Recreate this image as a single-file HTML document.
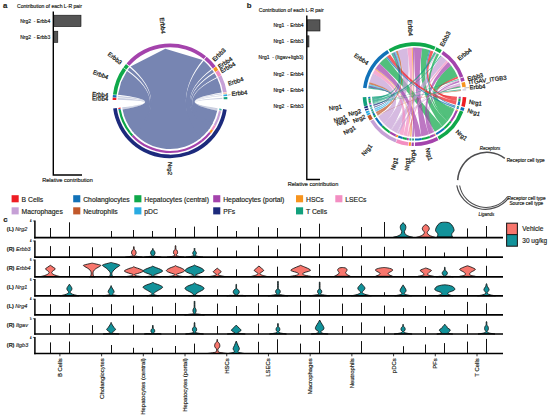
<!DOCTYPE html>
<html><head><meta charset="utf-8"><style>
html,body{margin:0;padding:0;background:#fff;width:550px;height:419px;overflow:hidden}
svg{display:block}
text{font-family:"Liberation Sans",sans-serif;stroke:#231F20;stroke-width:0.17px}
</style></head><body>
<svg width="550" height="419" viewBox="0 0 550 419">
<text x="3.00" y="8.40" font-size="7.8" text-anchor="start" font-weight="bold" fill="#231F20">a</text>
<text x="17.00" y="7.90" font-size="5.08" text-anchor="start" fill="#231F20">Contribution of each L-R pair</text>
<rect x="53.8" y="15.2" width="27.2" height="11.4" fill="#555" stroke="#111" stroke-width="0.6"/>
<rect x="53.8" y="31.2" width="4" height="11.2" fill="#555" stroke="#111" stroke-width="0.6"/>
<path d="M53.3,11.5 V175 H82" fill="none" stroke="#000" stroke-width="1.4"/>
<text x="50.20" y="22.90" font-size="5.0" text-anchor="end" fill="#231F20">Nrg2 &#160;- Erbb4</text>
<text x="50.20" y="38.90" font-size="5.0" text-anchor="end" fill="#231F20">Nrg2 &#160;- Erbb3</text>
<text x="67.50" y="182.00" font-size="5.6" text-anchor="middle" fill="#231F20">Relative contribution</text>
<path d="M226.72,109.68 A57.4,57.4 0 0 1 113.12,108.59 L116.78,108.10 A53.7,53.7 0 0 0 223.07,109.12Z" fill="#1C2A7C"/>
<path d="M221.59,108.89 A52.2,52.2 0 0 1 221.41,109.95 L219.24,109.57 A50.0,50.0 0 0 0 219.41,108.55Z" fill="#12A07C"/>
<path d="M221.41,109.95 A52.2,52.2 0 0 1 221.27,110.72 L219.11,110.31 A50.0,50.0 0 0 0 219.24,109.57Z" fill="#29ABE2"/>
<path d="M221.27,110.72 A52.2,52.2 0 0 1 221.10,111.54 L218.95,111.09 A50.0,50.0 0 0 0 219.11,110.31Z" fill="#F9C9B0"/>
<path d="M221.10,111.54 A52.2,52.2 0 0 1 215.75,126.04 L213.82,124.98 A50.0,50.0 0 0 0 218.95,111.09Z" fill="#C6A0D6"/>
<path d="M215.75,126.04 A52.2,52.2 0 0 1 213.03,130.45 L211.22,129.20 A50.0,50.0 0 0 0 213.82,124.98Z" fill="#F38EC2"/>
<path d="M213.03,130.45 A52.2,52.2 0 0 1 210.91,133.32 L209.19,131.95 A50.0,50.0 0 0 0 211.22,129.20Z" fill="#F7941E"/>
<path d="M210.91,133.32 A52.2,52.2 0 0 1 202.70,141.59 L201.32,139.87 A50.0,50.0 0 0 0 209.19,131.95Z" fill="#A443AC"/>
<path d="M202.70,141.59 A52.2,52.2 0 0 1 131.54,136.19 L133.16,134.70 A50.0,50.0 0 0 0 201.32,139.87Z" fill="#A443AC"/>
<path d="M131.54,136.19 A52.2,52.2 0 0 1 129.05,133.27 L130.78,131.91 A50.0,50.0 0 0 0 133.16,134.70Z" fill="#0FA84A"/>
<path d="M129.05,133.27 A52.2,52.2 0 0 1 118.63,110.17 L120.79,109.78 A50.0,50.0 0 0 0 130.78,131.91Z" fill="#0FA84A"/>
<path d="M118.63,110.17 A52.2,52.2 0 0 1 118.44,109.06 L120.61,108.72 A50.0,50.0 0 0 0 120.79,109.78Z" fill="#1272B8"/>
<path d="M118.44,109.06 A52.2,52.2 0 0 1 118.27,107.89 L120.45,107.60 A50.0,50.0 0 0 0 120.61,108.72Z" fill="#EE1D24"/>
<path d="M217.63,108.27 A48.2,48.2 0 0 1 217.47,109.26 Q170.00,100.90 222.30,97.66 L222.34,98.34 L222.37,99.03 Q170.00,100.90 217.63,108.27Z" fill="#7785B2" fill-opacity="0.4"/>
<path d="M217.47,109.26 A48.2,48.2 0 0 1 217.34,109.97 Q170.00,100.90 222.09,95.17 L222.13,95.60 L222.17,96.04 Q170.00,100.90 217.47,109.26Z" fill="#7785B2" fill-opacity="0.4"/>
<path d="M217.34,109.97 A48.2,48.2 0 0 1 217.19,110.72 Q170.00,100.90 221.84,93.28 L221.91,93.74 L221.97,94.21 Q170.00,100.90 217.34,109.97Z" fill="#7785B2" fill-opacity="0.4"/>
<path d="M217.19,110.72 A48.2,48.2 0 0 1 211.74,125.00 Q170.00,100.90 217.12,77.97 L219.95,85.06 L221.72,92.48 Q170.00,100.90 217.19,110.72Z" fill="#7785B2" fill-opacity="1.0"/>
<path d="M212.72,123.23 A48.2,48.2 0 0 1 209.16,129.01 Q170.00,100.90 214.46,73.17 L215.65,75.18 L216.75,77.23 Q170.00,100.90 212.72,123.23Z" fill="#7785B2" fill-opacity="1.0"/>
<path d="M210.30,127.34 A48.2,48.2 0 0 1 207.14,131.62 Q170.00,100.90 212.20,69.84 L213.08,71.07 L213.92,72.32 Q170.00,100.90 210.30,127.34Z" fill="#7785B2" fill-opacity="1.0"/>
<path d="M208.40,130.03 A48.2,48.2 0 0 1 199.40,139.10 Q170.00,100.90 203.72,60.79 L207.85,64.66 L211.54,68.96 Q170.00,100.90 208.40,130.03Z" fill="#7785B2" fill-opacity="1.0"/>
<path d="M200.97,137.83 A48.2,48.2 0 0 1 133.81,132.74 Q170.00,100.90 130.54,66.42 L165.30,48.71 L202.66,59.92 Q170.00,100.90 200.97,137.83Z" fill="#7785B2" fill-opacity="1.0"/>
<path d="M135.17,134.22 A48.2,48.2 0 0 1 131.57,129.99 Q170.00,100.90 127.63,70.06 L128.62,68.75 L129.65,67.46 Q170.00,100.90 135.17,134.22Z" fill="#7785B2" fill-opacity="1.0"/>
<path d="M132.82,131.58 A48.2,48.2 0 0 1 122.57,109.46 Q170.00,100.90 117.97,94.65 L121.03,82.25 L127.00,70.96 Q170.00,100.90 132.82,131.58Z" fill="#7785B2" fill-opacity="1.0"/>
<path d="M122.57,109.46 A48.2,48.2 0 0 1 122.39,108.43 Q170.00,100.90 117.73,97.20 L117.79,96.47 L117.85,95.74 Q170.00,100.90 122.57,109.46Z" fill="#7785B2" fill-opacity="0.4"/>
<path d="M122.39,108.43 A48.2,48.2 0 0 1 122.23,107.36 Q170.00,100.90 117.61,99.67 L117.64,98.89 L117.67,98.11 Q170.00,100.90 122.39,108.43Z" fill="#7785B2" fill-opacity="0.4"/>
<path d="M112.61,99.90 A57.4,57.4 0 0 1 112.70,97.50 L116.39,97.72 A53.7,53.7 0 0 0 116.31,99.96Z" fill="#EE1D24"/>
<path d="M112.72,97.20 A57.4,57.4 0 0 1 112.91,94.90 L116.59,95.29 A53.7,53.7 0 0 0 116.41,97.43Z" fill="#1272B8"/>
<path d="M112.97,94.40 A57.4,57.4 0 0 1 123.10,67.81 L126.12,69.95 A53.7,53.7 0 0 0 116.65,94.82Z" fill="#0FA84A"/>
<path d="M123.39,67.40 A57.4,57.4 0 0 1 126.03,64.00 L128.86,66.38 A53.7,53.7 0 0 0 126.39,69.56Z" fill="#0FA84A"/>
<path d="M126.55,63.39 A57.4,57.4 0 0 1 206.05,56.23 L203.72,59.11 A53.7,53.7 0 0 0 129.35,65.81Z" fill="#A443AC"/>
<path d="M206.67,56.74 A57.4,57.4 0 0 1 215.72,66.20 L212.77,68.43 A53.7,53.7 0 0 0 204.30,59.58Z" fill="#A443AC"/>
<path d="M216.02,66.60 A57.4,57.4 0 0 1 218.30,69.89 L215.19,71.89 A53.7,53.7 0 0 0 213.06,68.81Z" fill="#F7941E"/>
<path d="M218.52,70.23 A57.4,57.4 0 0 1 221.37,75.29 L218.06,76.94 A53.7,53.7 0 0 0 215.39,72.21Z" fill="#F38EC2"/>
<path d="M221.46,75.47 A57.4,57.4 0 0 1 226.71,92.02 L223.05,92.59 A53.7,53.7 0 0 0 218.14,77.11Z" fill="#C6A0D6"/>
<path d="M226.74,92.22 A57.4,57.4 0 0 1 226.97,93.90 L223.30,94.36 A53.7,53.7 0 0 0 223.08,92.78Z" fill="#F9C9B0"/>
<path d="M227.02,94.30 A57.4,57.4 0 0 1 227.18,95.90 L223.50,96.22 A53.7,53.7 0 0 0 223.34,94.73Z" fill="#29ABE2"/>
<path d="M227.27,97.00 A57.4,57.4 0 0 1 227.37,99.20 L223.68,99.31 A53.7,53.7 0 0 0 223.58,97.25Z" fill="#12A07C"/>
<text x="246.80" y="8.30" font-size="7.8" text-anchor="start" font-weight="bold" fill="#231F20">b</text>
<text x="258.80" y="11.90" font-size="5.08" text-anchor="start" fill="#231F20">Contribution of each L-R pair</text>
<rect x="307.4" y="19.8" width="12.6" height="11.2" fill="#555" stroke="#111" stroke-width="0.6"/>
<rect x="307.4" y="35.8" width="1.6" height="11.2" fill="#555" stroke="#111" stroke-width="0.5"/>
<path d="M306.8,15.5 V179.5 H320" fill="none" stroke="#000" stroke-width="1.4"/>
<text x="303.50" y="26.80" font-size="5.0" text-anchor="end" fill="#231F20">Nrg1 &#160;- Erbb4</text>
<text x="303.50" y="43.10" font-size="5.0" text-anchor="end" fill="#231F20">Nrg1 &#160;- Erbb3</text>
<text x="303.50" y="59.40" font-size="5.0" text-anchor="end" fill="#231F20">Nrg1 &#160;- (Itgav+Itgb3)</text>
<text x="303.50" y="75.70" font-size="5.0" text-anchor="end" fill="#231F20">Nrg2 &#160;- Erbb4</text>
<text x="303.50" y="92.00" font-size="5.0" text-anchor="end" fill="#231F20">Nrg4 &#160;- Erbb4</text>
<text x="303.50" y="108.30" font-size="5.0" text-anchor="end" fill="#231F20">Nrg2 &#160;- Erbb3</text>
<text x="313.00" y="186.00" font-size="5.6" text-anchor="middle" fill="#231F20">Relative contribution</text>
<rect x="11.6" y="195.2" width="7.1" height="7.1" fill="#EE1D24"/>
<text x="21.60" y="201.70" font-size="6.8" text-anchor="start" fill="#231F20">B Cells</text>
<rect x="73.2" y="195.2" width="7.1" height="7.1" fill="#1272B8"/>
<text x="83.20" y="201.70" font-size="6.8" text-anchor="start" fill="#231F20">Cholangiocytes</text>
<rect x="134.3" y="195.2" width="7.1" height="7.1" fill="#0FA84A"/>
<text x="144.30" y="201.70" font-size="6.8" text-anchor="start" fill="#231F20">Hepatocytes (central)</text>
<rect x="213.2" y="195.2" width="7.1" height="7.1" fill="#A443AC"/>
<text x="223.20" y="201.70" font-size="6.8" text-anchor="start" fill="#231F20">Hepatocytes (portal)</text>
<rect x="296" y="195.2" width="7.1" height="7.1" fill="#F7941E"/>
<text x="306.00" y="201.70" font-size="6.8" text-anchor="start" fill="#231F20">HSCs</text>
<rect x="335.3" y="195.2" width="7.1" height="7.1" fill="#F38EC2"/>
<text x="345.30" y="201.70" font-size="6.8" text-anchor="start" fill="#231F20">LSECs</text>
<rect x="11.6" y="207.3" width="7.1" height="7.1" fill="#C6A0D6"/>
<text x="21.60" y="213.80" font-size="6.8" text-anchor="start" fill="#231F20">Macrophages</text>
<rect x="73.2" y="207.3" width="7.1" height="7.1" fill="#C1582A"/>
<text x="83.20" y="213.80" font-size="6.8" text-anchor="start" fill="#231F20">Neutrophils</text>
<rect x="134.3" y="207.3" width="7.1" height="7.1" fill="#29ABE2"/>
<text x="144.30" y="213.80" font-size="6.8" text-anchor="start" fill="#231F20">pDC</text>
<rect x="213.2" y="207.3" width="7.1" height="7.1" fill="#1C2A7C"/>
<text x="223.20" y="213.80" font-size="6.8" text-anchor="start" fill="#231F20">PFs</text>
<rect x="296" y="207.3" width="7.1" height="7.1" fill="#12A07C"/>
<text x="306.00" y="213.80" font-size="6.8" text-anchor="start" fill="#231F20">T Cells</text>
<text x="3.30" y="222.20" font-size="7.8" text-anchor="start" font-weight="bold" fill="#231F20">c</text>
<path d="M454.18,109.71 A42.6,42.6 0 0 1 448.62,119.71 Q416.27,94.12 451.12,65.38 L454.75,70.71 L457.61,76.50 Q416.57,94.15 454.18,109.71Z" fill="#0FA84A" fill-opacity="0.72"/>
<path d="M384.12,124.06 A42.6,42.6 0 0 1 378.18,116.46 Q412.47,94.46 369.46,82.25 L370.92,77.70 L372.83,73.33 Q412.70,94.42 384.12,124.06Z" fill="#C6A0D6" fill-opacity="0.72"/>
<path d="M442.37,126.42 A42.6,42.6 0 0 1 434.83,131.64 Q414.13,94.37 379.51,63.43 L382.57,60.26 L385.92,57.40 Q414.48,94.09 442.37,126.42Z" fill="#0FA84A" fill-opacity="0.72"/>
<path d="M390.99,129.72 A42.6,42.6 0 0 1 384.12,124.06 Q413.32,93.86 397.72,50.72 L402.41,49.19 L407.24,48.17 Q413.73,93.94 390.99,129.72Z" fill="#C6A0D6" fill-opacity="0.72"/>
<path d="M428.83,134.32 A42.6,42.6 0 0 1 421.30,136.25 Q414.66,94.09 413.95,47.60 L418.06,47.74 L422.14,48.23 Q415.05,94.05 428.83,134.32Z" fill="#A443AC" fill-opacity="0.72"/>
<path d="M447.19,121.51 A42.6,42.6 0 0 1 442.37,126.42 Q415.39,93.86 422.14,48.23 L425.77,48.98 L429.32,50.02 Q415.69,93.78 447.19,121.51Z" fill="#0FA84A" fill-opacity="0.72"/>
<path d="M421.30,136.25 A42.6,42.6 0 0 1 414.87,136.80 Q413.54,94.62 375.79,68.26 L377.57,65.78 L379.51,63.43 Q413.80,94.48 421.30,136.25Z" fill="#A443AC" fill-opacity="0.72"/>
<path d="M396.77,132.93 A42.6,42.6 0 0 1 391.55,130.09 Q414.60,94.14 441.28,56.06 L444.02,58.14 L446.60,60.42 Q414.86,94.32 396.77,132.93Z" fill="#C6A0D6" fill-opacity="0.72"/>
<path d="M403.35,135.32 A42.6,42.6 0 0 1 399.23,133.97 Q413.08,94.67 372.83,73.33 L373.87,71.39 L374.99,69.49 Q413.23,94.61 403.35,135.32Z" fill="#F38EC2" fill-opacity="0.72"/>
<path d="M432.64,132.75 A42.6,42.6 0 0 1 428.83,134.32 Q415.70,94.40 448.13,61.94 L449.66,63.62 L451.12,65.38 Q415.87,94.44 432.64,132.75Z" fill="#A443AC" fill-opacity="0.72"/>
<path d="M407.23,136.18 A42.6,42.6 0 0 1 403.35,135.32 Q414.04,94.08 407.24,48.17 L409.48,47.87 L411.73,47.68 Q414.25,94.09 407.23,136.18Z" fill="#F38EC2" fill-opacity="0.72"/>
<path d="M456.54,101.08 A42.6,42.6 0 0 1 455.80,104.65 Q414.85,93.52 387.09,56.51 L388.57,55.48 L390.08,54.51 Q414.94,93.38 456.54,101.08Z" fill="#EE1D24" fill-opacity="0.72"/>
<path d="M456.90,98.28 A42.6,42.6 0 0 1 456.54,101.08 Q415.95,93.28 430.48,50.43 L431.94,50.99 L433.38,51.60 Q416.03,93.24 456.90,98.28Z" fill="#EE1D24" fill-opacity="0.72"/>
<path d="M448.62,119.71 A42.6,42.6 0 0 1 447.19,121.51 Q415.88,93.86 436.85,53.31 L437.96,53.94 L439.06,54.60 Q415.97,93.85 448.62,119.71Z" fill="#0FA84A" fill-opacity="0.72"/>
<path d="M376.71,113.87 A42.6,42.6 0 0 1 375.80,112.00 Q412.39,94.40 368.97,84.25 L369.21,83.25 L369.46,82.25 Q412.43,94.39 376.71,113.87Z" fill="#C1582A" fill-opacity="0.72"/>
<path d="M372.66,102.22 A42.6,42.6 0 0 1 372.32,100.19 Q413.94,93.29 434.19,51.97 L435.19,52.45 L436.18,52.95 Q414.00,93.37 372.66,102.22Z" fill="#12A07C" fill-opacity="0.72"/>
<path d="M372.32,100.19 A42.6,42.6 0 0 1 372.08,98.15 Q412.86,93.29 391.20,53.84 L392.13,53.32 L393.08,52.82 Q412.91,93.32 372.32,100.19Z" fill="#12A07C" fill-opacity="0.72"/>
<path d="M377.61,115.50 A42.6,42.6 0 0 1 376.71,113.87 Q413.09,93.62 395.82,51.51 L396.77,51.11 L397.72,50.72 Q413.16,93.65 377.61,115.50Z" fill="#C1582A" fill-opacity="0.72"/>
<path d="M409.02,136.45 A42.6,42.6 0 0 1 407.23,136.18 Q415.12,94.40 446.60,60.42 L447.37,61.17 L448.13,61.94 Q415.20,94.45 409.02,136.45Z" fill="#F38EC2" fill-opacity="0.72"/>
<path d="M398.89,133.84 A42.6,42.6 0 0 1 397.31,133.18 Q415.20,94.90 459.77,83.16 L460.00,84.13 L460.20,85.09 Q415.25,94.96 398.89,133.84Z" fill="#C6A0D6" fill-opacity="0.72"/>
<path d="M457.03,96.65 A42.6,42.6 0 0 1 456.90,98.28 Q416.64,93.86 457.61,76.50 L457.96,77.38 L458.29,78.26 Q416.66,93.86 457.03,96.65Z" fill="#EE1D24" fill-opacity="0.72"/>
<path d="M455.24,106.66 A42.6,42.6 0 0 1 454.78,108.07 Q414.79,93.63 385.92,57.40 L386.50,56.95 L387.09,56.51 Q414.83,93.57 455.24,106.66Z" fill="#1272B8" fill-opacity="0.72"/>
<path d="M372.08,98.15 A42.6,42.6 0 0 1 371.97,96.73 Q412.28,94.12 368.25,88.52 L368.33,87.87 L368.43,87.21 Q412.29,94.12 372.08,98.15Z" fill="#12A07C" fill-opacity="0.72"/>
<path d="M454.58,108.63 A42.6,42.6 0 0 1 454.18,109.71 Q416.64,94.39 460.42,86.28 L460.53,86.92 L460.62,87.55 Q416.66,94.39 454.58,108.63Z" fill="#0FA84A" fill-opacity="0.72"/>
<path d="M455.55,105.58 A42.6,42.6 0 0 1 455.24,106.66 Q415.89,93.41 429.32,50.02 L429.90,50.22 L430.48,50.43 Q415.93,93.39 455.55,105.58Z" fill="#1272B8" fill-opacity="0.72"/>
<path d="M413.91,136.80 A42.6,42.6 0 0 1 412.79,136.77 Q414.41,94.10 412.72,47.63 L413.34,47.61 L413.95,47.60 Q414.47,94.10 413.91,136.80Z" fill="#A443AC" fill-opacity="0.72"/>
<path d="M372.85,103.15 A42.6,42.6 0 0 1 372.66,102.22 Q414.10,93.43 440.42,55.48 L440.85,55.77 L441.28,56.06 Q414.13,93.47 372.85,103.15Z" fill="#12A07C" fill-opacity="0.72"/>
<path d="M433.48,132.34 A42.6,42.6 0 0 1 432.64,132.75 Q416.07,94.83 459.09,80.66 L459.31,81.40 L459.51,82.14 Q416.10,94.85 433.48,132.34Z" fill="#A443AC" fill-opacity="0.72"/>
<path d="M411.38,136.69 A42.6,42.6 0 0 1 410.49,136.61 Q414.33,94.10 411.73,47.68 L412.23,47.66 L412.72,47.63 Q414.38,94.10 411.38,136.69Z" fill="#F7941E" fill-opacity="0.72"/>
<path d="M375.37,111.05 A42.6,42.6 0 0 1 375.06,110.30 Q412.37,94.37 368.81,85.04 L368.89,84.64 L368.97,84.25 Q412.38,94.37 375.37,111.05Z" fill="#29ABE2" fill-opacity="0.72"/>
<path d="M374.65,109.26 A42.6,42.6 0 0 1 374.37,108.49 Q412.35,94.35 368.66,85.83 L368.73,85.44 L368.81,85.04 Q412.36,94.35 374.65,109.26Z" fill="#29ABE2" fill-opacity="0.72"/>
<path d="M373.35,105.23 A42.6,42.6 0 0 1 373.15,104.43 Q412.31,94.28 368.43,87.21 L368.49,86.81 L368.56,86.41 Q412.32,94.28 373.35,105.23Z" fill="#1C2A7C" fill-opacity="0.72"/>
<path d="M434.17,131.99 A42.6,42.6 0 0 1 433.48,132.34 Q416.12,94.93 460.27,85.43 L460.35,85.86 L460.42,86.28 Q416.14,94.95 434.17,131.99Z" fill="#A443AC" fill-opacity="0.72"/>
<path d="M412.79,136.77 A42.6,42.6 0 0 1 412.05,136.73 Q413.46,94.63 375.39,68.87 L375.59,68.56 L375.79,68.26 Q413.49,94.62 412.79,136.77Z" fill="#A443AC" fill-opacity="0.72"/>
<path d="M410.49,136.61 A42.6,42.6 0 0 1 409.75,136.53 Q413.39,94.64 374.99,69.49 L375.19,69.18 L375.39,68.87 Q413.42,94.63 410.49,136.61Z" fill="#F7941E" fill-opacity="0.72"/>
<path d="M375.67,111.73 A42.6,42.6 0 0 1 375.37,111.05 Q413.04,93.56 395.07,51.84 L395.45,51.67 L395.82,51.51 Q413.06,93.57 375.67,111.73Z" fill="#29ABE2" fill-opacity="0.72"/>
<path d="M374.92,109.95 A42.6,42.6 0 0 1 374.65,109.26 Q413.00,93.53 394.33,52.19 L394.70,52.02 L395.07,51.84 Q413.02,93.53 374.92,109.95Z" fill="#29ABE2" fill-opacity="0.72"/>
<path d="M373.55,105.94 A42.6,42.6 0 0 1 373.35,105.23 Q412.94,93.44 393.08,52.82 L393.44,52.63 L393.81,52.45 Q412.96,93.45 373.55,105.94Z" fill="#1C2A7C" fill-opacity="0.72"/>
<path d="M391.55,130.09 A42.6,42.6 0 0 1 390.99,129.72 Q414.45,94.06 436.18,52.95 L436.51,53.13 L436.85,53.31 Q414.48,94.07 391.55,130.09Z" fill="#C6A0D6" fill-opacity="0.72"/>
<path d="M373.94,107.22 A42.6,42.6 0 0 1 373.76,106.66 Q412.33,94.32 368.56,86.41 L368.61,86.12 L368.66,85.83 Q412.34,94.32 373.94,107.22Z" fill="#1C2A7C" fill-opacity="0.72"/>
<path d="M397.31,133.18 A42.6,42.6 0 0 1 396.77,132.93 Q415.16,94.81 458.78,79.68 L458.94,80.17 L459.09,80.66 Q415.18,94.84 397.31,133.18Z" fill="#C6A0D6" fill-opacity="0.72"/>
<path d="M374.10,107.72 A42.6,42.6 0 0 1 373.94,107.22 Q412.97,93.48 393.81,52.45 L394.07,52.32 L394.33,52.19 Q412.99,93.49 374.10,107.72Z" fill="#1C2A7C" fill-opacity="0.72"/>
<path d="M373.06,104.07 A42.6,42.6 0 0 1 372.95,103.61 Q414.62,94.31 460.83,89.17 L460.88,89.65 L460.92,90.14 Q414.62,94.35 373.06,104.07Z" fill="#12A07C" fill-opacity="0.72"/>
<path d="M372.95,103.61 A42.6,42.6 0 0 1 372.85,103.15 Q414.56,94.04 458.53,78.95 L458.66,79.32 L458.78,79.68 Q414.57,94.07 372.95,103.61Z" fill="#12A07C" fill-opacity="0.72"/>
<path d="M377.79,115.82 A42.6,42.6 0 0 1 377.61,115.50 Q414.74,94.63 460.92,90.14 L460.96,90.54 L460.99,90.95 Q414.74,94.66 377.79,115.82Z" fill="#C1582A" fill-opacity="0.72"/>
<path d="M409.31,136.48 A42.6,42.6 0 0 1 409.02,136.45 Q415.51,95.03 460.20,85.09 L460.24,85.26 L460.27,85.43 Q415.51,95.04 409.31,136.48Z" fill="#F38EC2" fill-opacity="0.72"/>
<path d="M460.82,96.87 A46.4,46.4 0 0 1 460.69,98.65 L458.60,98.45 A44.3,44.3 0 0 0 458.73,96.75Z" fill="#A443AC"/>
<path d="M460.69,98.65 A46.4,46.4 0 0 1 460.29,101.70 L458.22,101.36 A44.3,44.3 0 0 0 458.60,98.45Z" fill="#0FA84A"/>
<path d="M460.29,101.70 A46.4,46.4 0 0 1 459.48,105.58 L457.45,105.07 A44.3,44.3 0 0 0 458.22,101.36Z" fill="#1272B8"/>
<path d="M459.21,106.60 A46.4,46.4 0 0 1 458.87,107.77 L456.86,107.15 A44.3,44.3 0 0 0 457.19,106.04Z" fill="#0FA84A"/>
<path d="M458.87,107.77 A46.4,46.4 0 0 1 458.37,109.31 L456.39,108.62 A44.3,44.3 0 0 0 456.86,107.15Z" fill="#1272B8"/>
<path d="M458.16,109.92 A46.4,46.4 0 0 1 457.72,111.09 L455.76,110.32 A44.3,44.3 0 0 0 456.18,109.21Z" fill="#F7941E"/>
<path d="M457.72,111.09 A46.4,46.4 0 0 1 451.66,121.99 L449.98,120.73 A44.3,44.3 0 0 0 455.76,110.32Z" fill="#A443AC"/>
<path d="M451.66,121.99 A46.4,46.4 0 0 1 450.11,123.95 L448.50,122.60 A44.3,44.3 0 0 0 449.98,120.73Z" fill="#0FA84A"/>
<path d="M450.11,123.95 A46.4,46.4 0 0 1 444.85,129.30 L443.48,127.71 A44.3,44.3 0 0 0 448.50,122.60Z" fill="#0FA84A"/>
<path d="M444.85,129.30 A46.4,46.4 0 0 1 436.64,134.98 L435.64,133.13 A44.3,44.3 0 0 0 443.48,127.71Z" fill="#1272B8"/>
<path d="M435.93,135.36 A46.4,46.4 0 0 1 435.17,135.74 L434.23,133.86 A44.3,44.3 0 0 0 434.96,133.49Z" fill="#F7941E"/>
<path d="M435.17,135.74 A46.4,46.4 0 0 1 434.25,136.18 L433.36,134.28 A44.3,44.3 0 0 0 434.23,133.86Z" fill="#A443AC"/>
<path d="M434.25,136.18 A46.4,46.4 0 0 1 430.10,137.90 L429.40,135.92 A44.3,44.3 0 0 0 433.36,134.28Z" fill="#A443AC"/>
<path d="M430.10,137.90 A46.4,46.4 0 0 1 421.91,140.00 L421.57,137.93 A44.3,44.3 0 0 0 429.40,135.92Z" fill="#0FA84A"/>
<path d="M421.91,140.00 A46.4,46.4 0 0 1 414.90,140.60 L414.89,138.50 A44.3,44.3 0 0 0 421.57,137.93Z" fill="#1272B8"/>
<path d="M413.85,140.60 A46.4,46.4 0 0 1 412.64,140.56 L412.72,138.46 A44.3,44.3 0 0 0 413.88,138.50Z" fill="#0FA84A"/>
<path d="M412.64,140.56 A46.4,46.4 0 0 1 411.83,140.52 L411.95,138.43 A44.3,44.3 0 0 0 412.72,138.46Z" fill="#1272B8"/>
<path d="M411.10,140.48 A46.4,46.4 0 0 1 410.13,140.39 L410.33,138.30 A44.3,44.3 0 0 0 411.26,138.38Z" fill="#0FA84A"/>
<path d="M410.13,140.39 A46.4,46.4 0 0 1 409.33,140.31 L409.56,138.22 A44.3,44.3 0 0 0 410.33,138.30Z" fill="#1272B8"/>
<path d="M408.85,140.25 A46.4,46.4 0 0 1 408.53,140.21 L408.80,138.13 A44.3,44.3 0 0 0 409.10,138.17Z" fill="#F7941E"/>
<path d="M408.53,140.21 A46.4,46.4 0 0 1 406.59,139.92 L406.94,137.85 A44.3,44.3 0 0 0 408.80,138.13Z" fill="#A443AC"/>
<path d="M406.59,139.92 A46.4,46.4 0 0 1 402.36,138.98 L402.91,136.96 A44.3,44.3 0 0 0 406.94,137.85Z" fill="#0FA84A"/>
<path d="M402.36,138.98 A46.4,46.4 0 0 1 397.87,137.52 L398.62,135.56 A44.3,44.3 0 0 0 402.91,136.96Z" fill="#1272B8"/>
<path d="M397.49,137.37 A46.4,46.4 0 0 1 395.78,136.65 L396.62,134.73 A44.3,44.3 0 0 0 398.26,135.42Z" fill="#F7941E"/>
<path d="M395.78,136.65 A46.4,46.4 0 0 1 395.18,136.39 L396.06,134.48 A44.3,44.3 0 0 0 396.62,134.73Z" fill="#A443AC"/>
<path d="M395.18,136.39 A46.4,46.4 0 0 1 389.50,133.29 L390.63,131.52 A44.3,44.3 0 0 0 396.06,134.48Z" fill="#A443AC"/>
<path d="M389.50,133.29 A46.4,46.4 0 0 1 388.89,132.89 L390.05,131.14 A44.3,44.3 0 0 0 390.63,131.52Z" fill="#0FA84A"/>
<path d="M388.89,132.89 A46.4,46.4 0 0 1 381.41,126.72 L382.90,125.25 A44.3,44.3 0 0 0 390.05,131.14Z" fill="#0FA84A"/>
<path d="M381.41,126.72 A46.4,46.4 0 0 1 374.94,118.44 L376.73,117.35 A44.3,44.3 0 0 0 382.90,125.25Z" fill="#1272B8"/>
<path d="M374.52,117.75 A46.4,46.4 0 0 1 374.32,117.40 L376.14,116.35 A44.3,44.3 0 0 0 376.33,116.68Z" fill="#D7D3E3"/>
<path d="M374.32,117.40 A46.4,46.4 0 0 1 373.34,115.63 L375.21,114.66 A44.3,44.3 0 0 0 376.14,116.35Z" fill="#0FA84A"/>
<path d="M373.34,115.63 A46.4,46.4 0 0 1 372.35,113.59 L374.25,112.71 A44.3,44.3 0 0 0 375.21,114.66Z" fill="#1272B8"/>
<path d="M372.21,113.29 A46.4,46.4 0 0 1 371.88,112.55 L373.81,111.72 A44.3,44.3 0 0 0 374.12,112.43Z" fill="#0FA84A"/>
<path d="M371.88,112.55 A46.4,46.4 0 0 1 371.54,111.73 L373.48,110.94 A44.3,44.3 0 0 0 373.81,111.72Z" fill="#1272B8"/>
<path d="M371.39,111.36 A46.4,46.4 0 0 1 371.10,110.60 L373.06,109.86 A44.3,44.3 0 0 0 373.34,110.58Z" fill="#0FA84A"/>
<path d="M371.10,110.60 A46.4,46.4 0 0 1 370.79,109.76 L372.77,109.06 A44.3,44.3 0 0 0 373.06,109.86Z" fill="#1272B8"/>
<path d="M370.50,108.92 A46.4,46.4 0 0 1 370.32,108.38 L372.32,107.74 A44.3,44.3 0 0 0 372.49,108.26Z" fill="#0FA84A"/>
<path d="M370.32,108.38 A46.4,46.4 0 0 1 370.13,107.77 L372.14,107.15 A44.3,44.3 0 0 0 372.32,107.74Z" fill="#1272B8"/>
<path d="M369.90,106.99 A46.4,46.4 0 0 1 369.68,106.21 L371.71,105.67 A44.3,44.3 0 0 0 371.92,106.41Z" fill="#0FA84A"/>
<path d="M369.68,106.21 A46.4,46.4 0 0 1 369.46,105.35 L371.50,104.84 A44.3,44.3 0 0 0 371.71,105.67Z" fill="#1272B8"/>
<path d="M369.36,104.95 A46.4,46.4 0 0 1 369.25,104.45 L371.29,103.99 A44.3,44.3 0 0 0 371.41,104.47Z" fill="#D7D3E3"/>
<path d="M369.25,104.45 A46.4,46.4 0 0 1 369.13,103.94 L371.19,103.50 A44.3,44.3 0 0 0 371.29,103.99Z" fill="#A443AC"/>
<path d="M369.13,103.94 A46.4,46.4 0 0 1 368.93,102.93 L370.99,102.54 A44.3,44.3 0 0 0 371.19,103.50Z" fill="#A443AC"/>
<path d="M368.93,102.93 A46.4,46.4 0 0 1 368.56,100.72 L370.64,100.43 A44.3,44.3 0 0 0 370.99,102.54Z" fill="#0FA84A"/>
<path d="M368.56,100.72 A46.4,46.4 0 0 1 368.30,98.50 L370.39,98.30 A44.3,44.3 0 0 0 370.64,100.43Z" fill="#0FA84A"/>
<path d="M368.30,98.50 A46.4,46.4 0 0 1 368.18,96.95 L370.28,96.83 A44.3,44.3 0 0 0 370.39,98.30Z" fill="#1272B8"/>
<path d="M362.99,87.87 A51.9,51.9 0 0 1 387.31,50.00 L389.19,53.06 A48.3,48.3 0 0 0 366.56,88.31Z" fill="#1272B8"/>
<path d="M388.55,49.25 A51.9,51.9 0 0 1 435.53,46.75 L434.07,50.04 A48.3,48.3 0 0 0 390.35,52.37Z" fill="#0FA84A"/>
<path d="M436.43,47.16 A51.9,51.9 0 0 1 441.85,50.09 L439.95,53.15 A48.3,48.3 0 0 0 434.91,50.43Z" fill="#0FA84A"/>
<path d="M443.37,51.07 A51.9,51.9 0 0 1 463.27,76.45 L459.89,77.68 A48.3,48.3 0 0 0 441.37,54.06Z" fill="#A443AC"/>
<path d="M463.54,77.22 A51.9,51.9 0 0 1 464.63,80.77 L461.15,81.70 A48.3,48.3 0 0 0 460.14,78.40Z" fill="#A443AC"/>
<path d="M464.92,81.91 A51.9,51.9 0 0 1 465.87,86.80 L462.31,87.31 A48.3,48.3 0 0 0 461.43,82.76Z" fill="#F7941E"/>
<path d="M466.10,88.59 A51.9,51.9 0 0 1 466.27,90.58 L462.68,90.83 A48.3,48.3 0 0 0 462.52,88.98Z" fill="#D7D3E3"/>
<path d="M466.31,97.19 A51.9,51.9 0 0 1 464.81,106.93 L461.32,106.05 A48.3,48.3 0 0 0 462.72,96.98Z" fill="#EE1D24"/>
<path d="M464.51,108.07 A51.9,51.9 0 0 1 463.57,111.10 L460.17,109.92 A48.3,48.3 0 0 0 461.04,107.11Z" fill="#1272B8"/>
<path d="M463.33,111.78 A51.9,51.9 0 0 1 439.26,139.81 L437.55,136.65 A48.3,48.3 0 0 0 459.94,110.56Z" fill="#0FA84A"/>
<path d="M438.46,140.24 A51.9,51.9 0 0 1 414.95,146.10 L414.92,142.50 A48.3,48.3 0 0 0 436.80,137.04Z" fill="#A443AC"/>
<path d="M413.78,146.09 A51.9,51.9 0 0 1 411.51,146.01 L411.72,142.42 A48.3,48.3 0 0 0 413.83,142.50Z" fill="#A443AC"/>
<path d="M410.70,145.96 A51.9,51.9 0 0 1 408.71,145.78 L409.12,142.20 A48.3,48.3 0 0 0 410.96,142.37Z" fill="#F7941E"/>
<path d="M408.17,145.71 A51.9,51.9 0 0 1 395.90,142.65 L397.19,139.29 A48.3,48.3 0 0 0 408.61,142.14Z" fill="#F38EC2"/>
<path d="M395.48,142.49 A51.9,51.9 0 0 1 370.25,121.32 L373.32,119.44 A48.3,48.3 0 0 0 396.80,139.14Z" fill="#C6A0D6"/>
<path d="M369.78,120.54 A51.9,51.9 0 0 1 367.35,115.89 L370.62,114.38 A48.3,48.3 0 0 0 372.88,118.71Z" fill="#C1582A"/>
<path d="M367.20,115.56 A51.9,51.9 0 0 1 366.45,113.81 L369.78,112.45 A48.3,48.3 0 0 0 370.48,114.08Z" fill="#29ABE2"/>
<path d="M366.28,113.39 A51.9,51.9 0 0 1 365.61,111.61 L369.00,110.40 A48.3,48.3 0 0 0 369.62,112.06Z" fill="#29ABE2"/>
<path d="M365.28,110.67 A51.9,51.9 0 0 1 364.87,109.37 L368.31,108.32 A48.3,48.3 0 0 0 368.70,109.53Z" fill="#1C2A7C"/>
<path d="M364.61,108.51 A51.9,51.9 0 0 1 364.12,106.67 L367.61,105.80 A48.3,48.3 0 0 0 368.07,107.51Z" fill="#1C2A7C"/>
<path d="M364.01,106.23 A51.9,51.9 0 0 1 362.69,97.28 L366.29,97.06 A48.3,48.3 0 0 0 367.51,105.39Z" fill="#12A07C"/>
<text x="410.70" y="36.00" font-size="6.0" text-anchor="end" dominant-baseline="central" fill="#231F20" style="stroke-width:0.25px" transform="rotate(86.7 410.70 36.00)">Erbb4</text>
<text x="441.50" y="46.00" font-size="6.0" text-anchor="start" dominant-baseline="central" fill="#231F20" style="stroke-width:0.25px" transform="rotate(-61.6 441.50 46.00)">Erbb3</text>
<text x="458.40" y="59.20" font-size="6.0" text-anchor="start" dominant-baseline="central" fill="#231F20" style="stroke-width:0.25px" transform="rotate(-38.1 458.40 59.20)">Erbb4</text>
<text x="368.00" y="63.50" font-size="6.0" text-anchor="end" dominant-baseline="central" fill="#231F20" style="stroke-width:0.25px" transform="rotate(32.7 368.00 63.50)">Erbb4</text>
<text x="467.60" y="79.00" font-size="6.0" text-anchor="start" dominant-baseline="central" fill="#231F20" style="stroke-width:0.25px" transform="rotate(-14.5 467.60 79.00)">Erbb3</text>
<text x="468.70" y="82.30" font-size="6.0" text-anchor="start" dominant-baseline="central" fill="#231F20" style="stroke-width:0.25px" transform="rotate(-7.0 468.70 82.30)">ITGAV_ITGB3</text>
<text x="469.50" y="87.60" font-size="6.0" text-anchor="start" dominant-baseline="central" fill="#231F20" style="stroke-width:0.25px" transform="rotate(-5.0 469.50 87.60)">Erbb4</text>
<path d="M464.3,87.9 L469.2,87.6" stroke="#555" stroke-width="0.4"/>
<text x="469.00" y="101.80" font-size="6.0" text-anchor="start" dominant-baseline="central" fill="#231F20" style="stroke-width:0.25px" transform="rotate(8.8 469.00 101.80)">Nrg1</text>
<text x="467.50" y="110.40" font-size="6.0" text-anchor="start" dominant-baseline="central" fill="#231F20" style="stroke-width:0.25px" transform="rotate(17.2 467.50 110.40)">Nrg1</text>
<text x="456.50" y="131.00" font-size="6.0" text-anchor="start" dominant-baseline="central" fill="#231F20" style="stroke-width:0.25px" transform="rotate(40.5 456.50 131.00)">Nrg1</text>
<text x="427.50" y="148.00" font-size="6.0" text-anchor="start" dominant-baseline="central" fill="#231F20" style="stroke-width:0.25px" transform="rotate(76.6 427.50 148.00)">Nrg1</text>
<text x="413.30" y="149.50" font-size="6.0" text-anchor="end" dominant-baseline="central" fill="#231F20" style="stroke-width:0.25px" transform="rotate(-88.0 413.30 149.50)">Nrg4</text>
<text x="408.00" y="157.50" font-size="6.0" text-anchor="end" dominant-baseline="central" fill="#231F20" style="stroke-width:0.25px" transform="rotate(-84.7 408.00 157.50)">Nrg1</text>
<text x="396.00" y="157.50" font-size="6.0" text-anchor="end" dominant-baseline="central" fill="#231F20" style="stroke-width:0.25px" transform="rotate(-76.0 396.00 157.50)">Nrg1</text>
<text x="371.20" y="145.00" font-size="6.0" text-anchor="end" dominant-baseline="central" fill="#231F20" style="stroke-width:0.25px" transform="rotate(-50.0 371.20 145.00)">Nrg1</text>
<text x="341.70" y="106.50" font-size="6.0" text-anchor="end" dominant-baseline="central" fill="#231F20" style="stroke-width:0.25px" transform="rotate(-9.0 341.70 106.50)">Nrg1</text>
<text x="361.00" y="111.00" font-size="6.0" text-anchor="end" dominant-baseline="central" fill="#231F20" style="stroke-width:0.25px" transform="rotate(-15.0 361.00 111.00)">Nrg2</text>
<text x="346.30" y="116.80" font-size="6.0" text-anchor="end" dominant-baseline="central" fill="#231F20" style="stroke-width:0.25px" transform="rotate(-17.7 346.30 116.80)">Nrg1</text>
<text x="348.80" y="119.50" font-size="6.0" text-anchor="end" dominant-baseline="central" fill="#231F20" style="stroke-width:0.25px" transform="rotate(-20.6 348.80 119.50)">Nrg1</text>
<text x="365.30" y="116.30" font-size="6.0" text-anchor="end" dominant-baseline="central" fill="#231F20" style="stroke-width:0.25px" transform="rotate(-23.2 365.30 116.30)">Nrg2</text>
<text x="355.30" y="127.20" font-size="6.0" text-anchor="end" dominant-baseline="central" fill="#231F20" style="stroke-width:0.25px" transform="rotate(-27.6 355.30 127.20)">Nrg1</text>
<text x="163.30" y="33.60" font-size="6.0" text-anchor="end" dominant-baseline="central" fill="#231F20" style="stroke-width:0.25px" transform="rotate(84.7 163.30 33.60)">Erbb4</text>
<text x="121.20" y="63.20" font-size="6.0" text-anchor="end" dominant-baseline="central" fill="#231F20" style="stroke-width:0.25px" transform="rotate(37.8 121.20 63.20)">Erbb3</text>
<text x="108.20" y="77.60" font-size="6.0" text-anchor="end" dominant-baseline="central" fill="#231F20" style="stroke-width:0.25px" transform="rotate(20.9 108.20 77.60)">Erbb4</text>
<text x="108.20" y="95.30" font-size="6.0" text-anchor="end" dominant-baseline="central" fill="#231F20" style="stroke-width:0.25px" transform="rotate(4.8 108.20 95.30)">Erbb4</text>
<text x="108.20" y="98.90" font-size="6.0" text-anchor="end" dominant-baseline="central" fill="#231F20" style="stroke-width:0.25px" transform="rotate(2.2 108.20 98.90)">Erbb4</text>
<text x="213.30" y="60.30" font-size="6.0" text-anchor="start" dominant-baseline="central" fill="#231F20" style="stroke-width:0.25px" transform="rotate(-43.8 213.30 60.30)">Erbb3</text>
<text x="218.60" y="67.40" font-size="6.0" text-anchor="start" dominant-baseline="central" fill="#231F20" style="stroke-width:0.25px" transform="rotate(-34.7 218.60 67.40)">Erbb4</text>
<text x="220.90" y="71.40" font-size="6.0" text-anchor="start" dominant-baseline="central" fill="#231F20" style="stroke-width:0.25px" transform="rotate(-29.4 220.90 71.40)">Erbb4</text>
<text x="228.10" y="83.80" font-size="6.0" text-anchor="start" dominant-baseline="central" fill="#231F20" style="stroke-width:0.25px" transform="rotate(-17.6 228.10 83.80)">Erbb4</text>
<text x="231.50" y="93.90" font-size="6.0" text-anchor="start" dominant-baseline="central" fill="#231F20" style="stroke-width:0.25px" transform="rotate(-5.5 231.50 93.90)">Erbb4</text>
<path d="M227.6,95.2 L230.6,94.6" stroke="#555" stroke-width="0.4"/>
<text x="170.00" y="162.00" font-size="6.0" text-anchor="start" dominant-baseline="central" fill="#231F20" style="stroke-width:0.25px" transform="rotate(90.0 170.00 162.00)">Nrg2</text>
<path d="M457.69,180.11 A29.35,29.35 0 0 1 504.79,158.35" fill="none" stroke="#4D4D4F" stroke-width="1.5"/>
<path d="M456.80,185.47 A29.2,29.2 0 0 0 508.51,198.08" fill="none" stroke="#4D4D4F" stroke-width="1.2"/>
<path d="M459.63,185.49 A26.8,26.8 0 0 0 507.65,196.49" fill="none" stroke="#4D4D4F" stroke-width="1.1"/>
<text x="490.10" y="149.60" font-size="4.5" text-anchor="middle" font-style="italic" fill="#231F20">Receptors</text>
<text x="486.30" y="215.90" font-size="4.5" text-anchor="middle" font-style="italic" fill="#231F20">Ligands</text>
<text x="506.70" y="162.00" font-size="4.75" text-anchor="start" fill="#231F20">Receptor cell type</text>
<text x="507.50" y="199.60" font-size="4.75" text-anchor="start" fill="#231F20">Receptor cell type</text>
<text x="509.40" y="204.50" font-size="4.75" text-anchor="start" fill="#231F20">Source cell type</text>
<path d="M34.9,220.5 V238.4" stroke="#000" stroke-width="1.5" fill="none"/>
<path d="M32.9,221.0 H34.5" stroke="#000" stroke-width="0.6" fill="none"/>
<text x="31.40" y="222.10" font-size="2.6" text-anchor="end" fill="#231F20">4</text>
<text x="6.8" y="231.00" font-size="5.5" fill="#231F20"><tspan font-weight="bold">(L) </tspan><tspan font-style="italic" fill="#3A3A3C">Nrg2</tspan></text>
<path d="M50.50,237.7 V228.0" stroke="#111" stroke-width="1.0" fill="none"/>
<path d="M69.50,237.7 V222.3" stroke="#111" stroke-width="1.0" fill="none"/>
<path d="M111.50,237.7 V231.0" stroke="#111" stroke-width="1.0" fill="none"/>
<path d="M133.50,237.7 V230.0" stroke="#111" stroke-width="1.0" fill="none"/>
<path d="M152.50,237.7 V231.0" stroke="#111" stroke-width="1.0" fill="none"/>
<path d="M175.50,237.7 V228.0" stroke="#111" stroke-width="1.0" fill="none"/>
<path d="M194.50,237.7 V226.6" stroke="#111" stroke-width="1.0" fill="none"/>
<path d="M217.50,237.7 V226.0" stroke="#111" stroke-width="1.0" fill="none"/>
<path d="M236.50,237.7 V231.0" stroke="#111" stroke-width="1.0" fill="none"/>
<path d="M258.50,237.7 V227.2" stroke="#111" stroke-width="1.0" fill="none"/>
<path d="M277.50,237.7 V228.0" stroke="#111" stroke-width="1.0" fill="none"/>
<path d="M300.50,237.7 V228.0" stroke="#111" stroke-width="1.0" fill="none"/>
<path d="M319.50,237.7 V223.7" stroke="#111" stroke-width="1.0" fill="none"/>
<path d="M361.50,237.7 V227.0" stroke="#111" stroke-width="1.0" fill="none"/>
<path d="M384.50,237.7 V222.0" stroke="#111" stroke-width="1.0" fill="none"/>
<path d="M403.08,222.60 C403.45,223.00 404.81,224.20 405.28,225.00 C405.75,225.80 405.88,226.60 405.88,227.40 C405.88,228.20 405.53,229.08 405.28,229.80 C405.03,230.52 404.33,230.92 404.38,231.70 C404.43,232.48 404.80,233.73 405.58,234.50 C406.36,235.27 407.86,235.83 409.08,236.30 C410.30,236.77 412.25,237.13 412.88,237.30 L393.28,237.30 C393.91,237.13 395.86,236.77 397.08,236.30 C398.30,235.83 399.80,235.27 400.58,234.50 C401.36,233.73 401.73,232.48 401.78,231.70 C401.83,230.92 401.13,230.52 400.88,229.80 C400.63,229.08 400.28,228.20 400.28,227.40 C400.28,226.60 400.41,225.80 400.88,225.00 C401.35,224.20 402.71,223.00 403.08,222.60 Z" fill="#12929A" stroke="#111" stroke-width="0.85" stroke-linejoin="round"/>
<path d="M425.79,224.50 C426.21,224.80 427.71,225.58 428.29,226.30 C428.87,227.02 429.29,228.05 429.29,228.80 C429.29,229.55 428.64,230.18 428.29,230.80 C427.94,231.42 427.11,231.80 427.19,232.50 C427.27,233.20 427.94,234.33 428.79,235.00 C429.64,235.67 431.21,236.10 432.29,236.50 C433.37,236.90 434.79,237.25 435.29,237.40 L416.29,237.40 C416.79,237.25 418.21,236.90 419.29,236.50 C420.37,236.10 421.94,235.67 422.79,235.00 C423.64,234.33 424.31,233.20 424.39,232.50 C424.47,231.80 423.64,231.42 423.29,230.80 C422.94,230.18 422.29,229.55 422.29,228.80 C422.29,228.05 422.71,227.02 423.29,226.30 C423.87,225.58 425.37,224.80 425.79,224.50 Z" fill="#F8766D" stroke="#111" stroke-width="0.85" stroke-linejoin="round"/>
<path d="M444.79,222.20 C445.16,222.22 446.36,222.23 446.99,222.30 C447.62,222.37 448.06,222.42 448.59,222.60 C449.12,222.78 449.67,223.03 450.19,223.40 C450.71,223.77 451.22,224.23 451.69,224.80 C452.16,225.37 452.61,226.03 452.99,226.80 C453.37,227.57 453.84,228.70 453.99,229.40 C454.14,230.10 454.09,230.48 453.89,231.00 C453.69,231.52 453.14,232.03 452.79,232.50 C452.44,232.97 451.94,233.30 451.79,233.80 C451.64,234.30 451.76,234.98 451.89,235.50 C452.02,236.02 452.47,236.67 452.59,236.90 L436.99,236.90 C437.11,236.67 437.56,236.02 437.69,235.50 C437.82,234.98 437.94,234.30 437.79,233.80 C437.64,233.30 437.14,232.97 436.79,232.50 C436.44,232.03 435.89,231.52 435.69,231.00 C435.49,230.48 435.44,230.10 435.59,229.40 C435.74,228.70 436.21,227.57 436.59,226.80 C436.97,226.03 437.42,225.37 437.89,224.80 C438.36,224.23 438.87,223.77 439.39,223.40 C439.91,223.03 440.46,222.78 440.99,222.60 C441.52,222.42 441.96,222.37 442.59,222.30 C443.22,222.23 444.42,222.22 444.79,222.20 Z" fill="#12929A" stroke="#111" stroke-width="0.85" stroke-linejoin="round"/>
<path d="M467.50,237.7 V228.4" stroke="#111" stroke-width="1.0" fill="none"/>
<path d="M486.50,237.7 V226.0" stroke="#111" stroke-width="1.0" fill="none"/>
<path d="M34.2,237.7 H503" stroke="#000" stroke-width="1.7" fill="none"/>
<path d="M34.9,240.5 V257.9" stroke="#000" stroke-width="1.5" fill="none"/>
<path d="M32.9,241.0 H34.5" stroke="#000" stroke-width="0.6" fill="none"/>
<text x="31.40" y="242.10" font-size="2.6" text-anchor="end" fill="#231F20">4</text>
<text x="6.8" y="250.50" font-size="5.5" fill="#231F20"><tspan font-weight="bold">(R) </tspan><tspan font-style="italic" fill="#3A3A3C">Erbb3</tspan></text>
<path d="M50.50,257.2 V246.1" stroke="#111" stroke-width="1.0" fill="none"/>
<path d="M69.50,257.2 V246.1" stroke="#111" stroke-width="1.0" fill="none"/>
<path d="M92.50,257.2 V247.3" stroke="#111" stroke-width="1.0" fill="none"/>
<path d="M111.50,257.2 V247.6" stroke="#111" stroke-width="1.0" fill="none"/>
<path d="M133.82,246.50 C133.87,246.60 134.05,246.65 134.12,247.10 C134.19,247.55 134.07,248.71 134.22,249.20 C134.37,249.69 134.77,249.78 135.01,250.06 C135.25,250.34 135.49,250.57 135.66,250.88 C135.83,251.19 135.96,251.60 136.03,251.92 C136.11,252.24 136.13,252.50 136.12,252.79 C136.11,253.08 136.09,253.37 135.99,253.66 C135.89,253.95 135.74,254.28 135.53,254.53 C135.33,254.78 134.95,254.98 134.77,255.17 C134.58,255.35 134.39,255.53 134.42,255.65 C134.45,255.77 134.59,255.81 134.92,255.90 C135.25,255.99 135.63,256.06 136.37,256.20 C137.11,256.34 138.35,256.58 139.34,256.75 C140.34,256.92 141.82,257.12 142.32,257.20 L125.32,257.20 C125.82,257.12 127.30,256.92 128.29,256.75 C129.29,256.58 130.53,256.34 131.27,256.20 C132.01,256.06 132.39,255.99 132.72,255.90 C133.05,255.81 133.19,255.77 133.22,255.65 C133.25,255.53 133.06,255.35 132.87,255.17 C132.69,254.98 132.31,254.78 132.11,254.53 C131.90,254.28 131.75,253.95 131.65,253.66 C131.55,253.37 131.53,253.08 131.52,252.79 C131.51,252.50 131.53,252.24 131.61,251.92 C131.68,251.60 131.81,251.19 131.98,250.88 C132.15,250.57 132.39,250.34 132.63,250.06 C132.87,249.78 133.27,249.69 133.42,249.20 C133.57,248.71 133.45,247.55 133.52,247.10 C133.59,246.65 133.77,246.60 133.82,246.50 Z" fill="#F8766D" stroke="#111" stroke-width="0.85" stroke-linejoin="round"/>
<path d="M152.82,248.40 C152.87,248.50 153.05,248.77 153.12,249.00 C153.19,249.23 153.08,249.53 153.22,249.80 C153.36,250.07 153.74,250.36 153.96,250.62 C154.19,250.88 154.42,251.08 154.58,251.37 C154.74,251.65 154.86,252.03 154.94,252.32 C155.01,252.61 155.03,252.85 155.02,253.12 C155.01,253.38 154.99,253.65 154.89,253.91 C154.80,254.17 154.65,254.48 154.46,254.70 C154.27,254.93 153.90,255.11 153.73,255.29 C153.55,255.46 153.39,255.63 153.42,255.75 C153.45,255.87 153.59,255.91 153.92,256.00 C154.25,256.09 154.63,256.18 155.37,256.30 C156.11,256.43 157.35,256.60 158.34,256.75 C159.34,256.90 160.82,257.12 161.32,257.20 L144.32,257.20 C144.82,257.12 146.30,256.90 147.29,256.75 C148.29,256.60 149.53,256.43 150.27,256.30 C151.01,256.18 151.39,256.09 151.72,256.00 C152.05,255.91 152.19,255.87 152.22,255.75 C152.25,255.63 152.09,255.46 151.91,255.29 C151.74,255.11 151.37,254.93 151.18,254.70 C150.99,254.48 150.84,254.17 150.75,253.91 C150.65,253.65 150.63,253.38 150.62,253.12 C150.61,252.85 150.63,252.61 150.70,252.32 C150.78,252.03 150.90,251.65 151.06,251.37 C151.22,251.08 151.45,250.88 151.68,250.62 C151.90,250.36 152.28,250.07 152.42,249.80 C152.56,249.53 152.45,249.23 152.52,249.00 C152.59,248.77 152.77,248.50 152.82,248.40 Z" fill="#12929A" stroke="#111" stroke-width="0.85" stroke-linejoin="round"/>
<path d="M175.53,245.50 C175.58,245.60 175.76,245.48 175.83,246.10 C175.90,246.72 175.80,248.55 175.93,249.20 C176.06,249.85 176.41,249.76 176.62,250.02 C176.83,250.27 177.06,250.47 177.21,250.74 C177.36,251.02 177.48,251.39 177.55,251.68 C177.62,251.97 177.64,252.20 177.63,252.46 C177.62,252.72 177.60,252.98 177.51,253.24 C177.42,253.50 177.28,253.79 177.10,254.02 C176.91,254.25 176.56,254.42 176.40,254.59 C176.23,254.76 176.09,254.90 176.13,255.05 C176.17,255.20 176.31,255.31 176.63,255.50 C176.95,255.69 177.34,255.99 178.08,256.20 C178.82,256.41 180.06,256.58 181.06,256.75 C182.05,256.92 183.53,257.12 184.03,257.20 L167.03,257.20 C167.53,257.12 169.01,256.92 170.00,256.75 C171.00,256.58 172.24,256.41 172.98,256.20 C173.72,255.99 174.11,255.69 174.43,255.50 C174.75,255.31 174.89,255.20 174.93,255.05 C174.97,254.90 174.83,254.76 174.66,254.59 C174.50,254.42 174.15,254.25 173.96,254.02 C173.78,253.79 173.64,253.50 173.55,253.24 C173.46,252.98 173.44,252.72 173.43,252.46 C173.42,252.20 173.44,251.97 173.51,251.68 C173.58,251.39 173.70,251.02 173.85,250.74 C174.00,250.47 174.23,250.27 174.44,250.02 C174.65,249.76 175.00,249.85 175.13,249.20 C175.26,248.55 175.16,246.72 175.23,246.10 C175.30,245.48 175.48,245.60 175.53,245.50 Z" fill="#F8766D" stroke="#111" stroke-width="0.85" stroke-linejoin="round"/>
<path d="M194.53,248.00 C194.58,248.10 194.76,248.17 194.83,248.60 C194.90,249.03 194.82,250.14 194.93,250.60 C195.04,251.06 195.29,251.12 195.46,251.34 C195.64,251.56 195.84,251.70 195.97,251.92 C196.10,252.15 196.20,252.45 196.26,252.68 C196.32,252.91 196.34,253.10 196.33,253.31 C196.32,253.52 196.30,253.73 196.23,253.94 C196.15,254.15 196.03,254.39 195.87,254.57 C195.71,254.75 195.40,254.89 195.27,255.03 C195.15,255.18 195.07,255.34 195.13,255.45 C195.19,255.56 195.31,255.57 195.63,255.70 C195.95,255.82 196.34,256.02 197.08,256.20 C197.82,256.38 199.06,256.58 200.06,256.75 C201.05,256.92 202.53,257.12 203.03,257.20 L186.03,257.20 C186.53,257.12 188.01,256.92 189.00,256.75 C190.00,256.58 191.24,256.38 191.98,256.20 C192.72,256.02 193.11,255.82 193.43,255.70 C193.75,255.57 193.87,255.56 193.93,255.45 C193.99,255.34 193.91,255.18 193.79,255.03 C193.66,254.89 193.35,254.75 193.19,254.57 C193.03,254.39 192.91,254.15 192.83,253.94 C192.76,253.73 192.74,253.52 192.73,253.31 C192.72,253.10 192.74,252.91 192.80,252.68 C192.86,252.45 192.96,252.15 193.09,251.92 C193.22,251.70 193.42,251.56 193.60,251.34 C193.77,251.12 194.02,251.06 194.13,250.60 C194.24,250.14 194.16,249.03 194.23,248.60 C194.30,248.17 194.48,248.10 194.53,248.00 Z" fill="#12929A" stroke="#111" stroke-width="0.85" stroke-linejoin="round"/>
<path d="M217.50,257.2 V247.6" stroke="#111" stroke-width="1.0" fill="none"/>
<path d="M236.50,257.2 V250.5" stroke="#111" stroke-width="1.0" fill="none"/>
<path d="M258.50,257.2 V245.5" stroke="#111" stroke-width="1.0" fill="none"/>
<path d="M277.50,257.2 V249.3" stroke="#111" stroke-width="1.0" fill="none"/>
<path d="M300.50,257.2 V243.5" stroke="#111" stroke-width="1.0" fill="none"/>
<path d="M319.50,257.2 V243.5" stroke="#111" stroke-width="1.0" fill="none"/>
<path d="M342.50,257.2 V246.2" stroke="#111" stroke-width="1.0" fill="none"/>
<path d="M361.50,257.2 V245.2" stroke="#111" stroke-width="1.0" fill="none"/>
<path d="M384.50,257.2 V246.8" stroke="#111" stroke-width="1.0" fill="none"/>
<path d="M403.50,257.2 V250.0" stroke="#111" stroke-width="1.0" fill="none"/>
<path d="M425.50,257.2 V246.2" stroke="#111" stroke-width="1.0" fill="none"/>
<path d="M444.50,257.2 V252.5" stroke="#111" stroke-width="1.0" fill="none"/>
<path d="M467.50,257.2 V246.8" stroke="#111" stroke-width="1.0" fill="none"/>
<path d="M486.50,257.2 V248.4" stroke="#111" stroke-width="1.0" fill="none"/>
<path d="M34.2,257.2 H503" stroke="#000" stroke-width="1.7" fill="none"/>
<path d="M34.9,259.5 V277.5" stroke="#000" stroke-width="1.5" fill="none"/>
<path d="M32.9,260.0 H34.5" stroke="#000" stroke-width="0.6" fill="none"/>
<text x="31.40" y="261.10" font-size="2.6" text-anchor="end" fill="#231F20">6</text>
<text x="6.8" y="270.10" font-size="5.5" fill="#231F20"><tspan font-weight="bold">(R) </tspan><tspan font-style="italic" fill="#3A3A3C">Erbb4</tspan></text>
<path d="M50.40,265.30 C50.83,265.60 52.18,266.50 53.00,267.10 C53.82,267.70 55.27,268.30 55.30,268.90 C55.33,269.50 53.80,270.10 53.20,270.70 C52.60,271.30 51.70,271.90 51.70,272.50 C51.70,273.10 52.42,273.78 53.20,274.30 C53.98,274.82 55.28,275.23 56.40,275.60 C57.52,275.97 59.32,276.35 59.90,276.50 L40.90,276.50 C41.48,276.35 43.28,275.97 44.40,275.60 C45.52,275.23 46.82,274.82 47.60,274.30 C48.38,273.78 49.10,273.10 49.10,272.50 C49.10,271.90 48.20,271.30 47.60,270.70 C47.00,270.10 45.47,269.50 45.50,268.90 C45.53,268.30 46.98,267.70 47.80,267.10 C48.62,266.50 49.97,265.60 50.40,265.30 Z" fill="#F8766D" stroke="#111" stroke-width="0.85" stroke-linejoin="round"/>
<path d="M69.50,276.8 V266.0" stroke="#111" stroke-width="1.0" fill="none"/>
<path d="M92.11,263.10 C92.61,263.22 94.03,263.55 95.11,263.80 C96.19,264.05 97.66,264.33 98.61,264.60 C99.56,264.87 100.64,265.08 100.81,265.40 C100.98,265.72 100.31,266.03 99.61,266.50 C98.91,266.97 97.49,267.62 96.61,268.20 C95.73,268.78 94.88,269.40 94.31,270.00 C93.74,270.60 93.43,271.13 93.21,271.80 C92.99,272.47 92.94,273.27 93.01,274.00 C93.08,274.73 93.26,275.73 93.61,276.20 C93.96,276.67 94.86,276.70 95.11,276.80 L89.11,276.80 C89.36,276.70 90.26,276.67 90.61,276.20 C90.96,275.73 91.14,274.73 91.21,274.00 C91.28,273.27 91.23,272.47 91.01,271.80 C90.79,271.13 90.48,270.60 89.91,270.00 C89.34,269.40 88.49,268.78 87.61,268.20 C86.73,267.62 85.31,266.97 84.61,266.50 C83.91,266.03 83.24,265.72 83.41,265.40 C83.58,265.08 84.66,264.87 85.61,264.60 C86.56,264.33 88.03,264.05 89.11,263.80 C90.19,263.55 91.61,263.22 92.11,263.10 Z" fill="#F8766D" stroke="#111" stroke-width="0.85" stroke-linejoin="round"/>
<path d="M111.11,262.40 C111.61,262.55 113.03,263.00 114.11,263.30 C115.19,263.60 116.66,263.88 117.61,264.20 C118.56,264.52 119.64,264.83 119.81,265.20 C119.98,265.57 119.23,265.93 118.61,266.40 C117.99,266.87 116.89,267.40 116.11,268.00 C115.33,268.60 114.58,269.25 113.91,270.00 C113.24,270.75 112.44,271.75 112.11,272.50 C111.78,273.25 111.83,273.88 111.91,274.50 C111.99,275.12 112.24,275.82 112.61,276.20 C112.98,276.58 113.86,276.70 114.11,276.80 L108.11,276.80 C108.36,276.70 109.24,276.58 109.61,276.20 C109.98,275.82 110.23,275.12 110.31,274.50 C110.39,273.88 110.44,273.25 110.11,272.50 C109.78,271.75 108.98,270.75 108.31,270.00 C107.64,269.25 106.89,268.60 106.11,268.00 C105.33,267.40 104.23,266.87 103.61,266.40 C102.99,265.93 102.24,265.57 102.41,265.20 C102.58,264.83 103.66,264.52 104.61,264.20 C105.56,263.88 107.03,263.60 108.11,263.30 C109.19,263.00 110.61,262.55 111.11,262.40 Z" fill="#12929A" stroke="#111" stroke-width="0.85" stroke-linejoin="round"/>
<path d="M133.82,266.60 C134.02,266.73 134.39,267.13 135.02,267.40 C135.65,267.67 136.62,267.85 137.62,268.20 C138.62,268.55 140.07,269.03 141.02,269.50 C141.97,269.97 143.32,270.52 143.32,271.00 C143.32,271.48 141.97,271.98 141.02,272.40 C140.07,272.82 138.59,273.20 137.62,273.50 C136.65,273.80 135.74,273.98 135.22,274.20 C134.70,274.42 134.34,274.53 134.52,274.80 C134.70,275.07 135.10,275.50 136.32,275.80 C137.54,276.10 140.90,276.47 141.82,276.60 L125.82,276.60 C126.74,276.47 130.10,276.10 131.32,275.80 C132.54,275.50 132.94,275.07 133.12,274.80 C133.30,274.53 132.94,274.42 132.42,274.20 C131.90,273.98 130.99,273.80 130.02,273.50 C129.05,273.20 127.57,272.82 126.62,272.40 C125.67,271.98 124.32,271.48 124.32,271.00 C124.32,270.52 125.67,269.97 126.62,269.50 C127.57,269.03 129.02,268.55 130.02,268.20 C131.02,267.85 131.99,267.67 132.62,267.40 C133.25,267.13 133.62,266.73 133.82,266.60 Z" fill="#F8766D" stroke="#111" stroke-width="0.85" stroke-linejoin="round"/>
<path d="M152.82,266.00 C153.02,266.13 153.39,266.50 154.02,266.80 C154.65,267.10 155.57,267.38 156.62,267.80 C157.67,268.22 159.32,268.77 160.32,269.30 C161.32,269.83 162.62,270.45 162.62,271.00 C162.62,271.55 161.29,272.12 160.32,272.60 C159.35,273.08 157.82,273.53 156.82,273.90 C155.82,274.27 154.85,274.55 154.32,274.80 C153.79,275.05 153.45,275.18 153.62,275.40 C153.79,275.62 154.12,275.88 155.32,276.10 C156.52,276.32 159.90,276.60 160.82,276.70 L144.82,276.70 C145.74,276.60 149.12,276.32 150.32,276.10 C151.52,275.88 151.85,275.62 152.02,275.40 C152.19,275.18 151.85,275.05 151.32,274.80 C150.79,274.55 149.82,274.27 148.82,273.90 C147.82,273.53 146.29,273.08 145.32,272.60 C144.35,272.12 143.02,271.55 143.02,271.00 C143.02,270.45 144.32,269.83 145.32,269.30 C146.32,268.77 147.97,268.22 149.02,267.80 C150.07,267.38 150.99,267.10 151.62,266.80 C152.25,266.50 152.62,266.13 152.82,266.00 Z" fill="#12929A" stroke="#111" stroke-width="0.85" stroke-linejoin="round"/>
<path d="M175.53,265.60 C175.73,265.73 176.10,266.12 176.73,266.40 C177.36,266.68 178.33,266.90 179.33,267.30 C180.33,267.70 181.83,268.25 182.73,268.80 C183.63,269.35 184.73,270.05 184.73,270.60 C184.73,271.15 183.63,271.65 182.73,272.10 C181.83,272.55 180.30,272.97 179.33,273.30 C178.36,273.63 177.45,273.87 176.93,274.10 C176.41,274.33 176.05,274.42 176.23,274.70 C176.41,274.98 176.81,275.48 178.03,275.80 C179.25,276.12 182.61,276.47 183.53,276.60 L167.53,276.60 C168.45,276.47 171.81,276.12 173.03,275.80 C174.25,275.48 174.65,274.98 174.83,274.70 C175.01,274.42 174.65,274.33 174.13,274.10 C173.61,273.87 172.70,273.63 171.73,273.30 C170.76,272.97 169.23,272.55 168.33,272.10 C167.43,271.65 166.33,271.15 166.33,270.60 C166.33,270.05 167.43,269.35 168.33,268.80 C169.23,268.25 170.73,267.70 171.73,267.30 C172.73,266.90 173.70,266.68 174.33,266.40 C174.96,266.12 175.33,265.73 175.53,265.60 Z" fill="#F8766D" stroke="#111" stroke-width="0.85" stroke-linejoin="round"/>
<path d="M194.53,265.00 C194.73,265.13 195.10,265.50 195.73,265.80 C196.36,266.10 197.28,266.35 198.33,266.80 C199.38,267.25 201.08,267.87 202.03,268.50 C202.98,269.13 204.03,269.97 204.03,270.60 C204.03,271.23 202.95,271.78 202.03,272.30 C201.11,272.82 199.53,273.32 198.53,273.70 C197.53,274.08 196.56,274.35 196.03,274.60 C195.50,274.85 195.16,274.97 195.33,275.20 C195.50,275.43 195.83,275.75 197.03,276.00 C198.23,276.25 201.61,276.58 202.53,276.70 L186.53,276.70 C187.45,276.58 190.83,276.25 192.03,276.00 C193.23,275.75 193.56,275.43 193.73,275.20 C193.90,274.97 193.56,274.85 193.03,274.60 C192.50,274.35 191.53,274.08 190.53,273.70 C189.53,273.32 187.95,272.82 187.03,272.30 C186.11,271.78 185.03,271.23 185.03,270.60 C185.03,269.97 186.08,269.13 187.03,268.50 C187.98,267.87 189.68,267.25 190.73,266.80 C191.78,266.35 192.70,266.10 193.33,265.80 C193.96,265.50 194.33,265.13 194.53,265.00 Z" fill="#12929A" stroke="#111" stroke-width="0.85" stroke-linejoin="round"/>
<path d="M217.24,268.20 C217.61,268.50 218.77,269.40 219.44,270.00 C220.11,270.60 221.24,271.25 221.24,271.80 C221.24,272.35 219.97,272.85 219.44,273.30 C218.91,273.75 217.82,274.10 218.04,274.50 C218.26,274.90 219.54,275.35 220.74,275.70 C221.94,276.05 224.49,276.45 225.24,276.60 L209.24,276.60 C209.99,276.45 212.54,276.05 213.74,275.70 C214.94,275.35 216.22,274.90 216.44,274.50 C216.66,274.10 215.57,273.75 215.04,273.30 C214.51,272.85 213.24,272.35 213.24,271.80 C213.24,271.25 214.37,270.60 215.04,270.00 C215.71,269.40 216.87,268.50 217.24,268.20 Z" fill="#F8766D" stroke="#111" stroke-width="0.85" stroke-linejoin="round"/>
<path d="M236.50,276.8 V269.3" stroke="#111" stroke-width="1.0" fill="none"/>
<path d="M258.95,266.00 C259.37,266.37 260.67,267.47 261.45,268.20 C262.23,268.93 263.67,269.72 263.65,270.40 C263.63,271.08 261.98,271.73 261.35,272.30 C260.72,272.87 259.67,273.30 259.85,273.80 C260.03,274.30 261.27,274.85 262.45,275.30 C263.63,275.75 266.20,276.30 266.95,276.50 L250.95,276.50 C251.70,276.30 254.27,275.75 255.45,275.30 C256.63,274.85 257.87,274.30 258.05,273.80 C258.23,273.30 257.18,272.87 256.55,272.30 C255.92,271.73 254.27,271.08 254.25,270.40 C254.23,269.72 255.67,268.93 256.45,268.20 C257.23,267.47 258.53,266.37 258.95,266.00 Z" fill="#F8766D" stroke="#111" stroke-width="0.85" stroke-linejoin="round"/>
<path d="M277.50,276.8 V266.7" stroke="#111" stroke-width="1.0" fill="none"/>
<path d="M300.66,265.30 C300.91,265.42 301.49,265.72 302.16,266.00 C302.83,266.28 303.74,266.62 304.66,267.00 C305.58,267.38 306.78,267.87 307.66,268.30 C308.54,268.73 309.49,269.25 309.96,269.60 C310.43,269.95 310.68,270.12 310.46,270.40 C310.24,270.68 309.54,270.98 308.66,271.30 C307.78,271.62 306.08,271.97 305.16,272.30 C304.24,272.63 303.58,272.98 303.16,273.30 C302.74,273.62 302.33,273.87 302.66,274.20 C302.99,274.53 303.66,274.92 305.16,275.30 C306.66,275.68 310.58,276.30 311.66,276.50 L289.66,276.50 C290.74,276.30 294.66,275.68 296.16,275.30 C297.66,274.92 298.33,274.53 298.66,274.20 C298.99,273.87 298.58,273.62 298.16,273.30 C297.74,272.98 297.08,272.63 296.16,272.30 C295.24,271.97 293.54,271.62 292.66,271.30 C291.78,270.98 291.08,270.68 290.86,270.40 C290.64,270.12 290.89,269.95 291.36,269.60 C291.83,269.25 292.78,268.73 293.66,268.30 C294.54,267.87 295.74,267.38 296.66,267.00 C297.58,266.62 298.49,266.28 299.16,266.00 C299.83,265.72 300.41,265.42 300.66,265.30 Z" fill="#F8766D" stroke="#111" stroke-width="0.85" stroke-linejoin="round"/>
<path d="M319.50,276.8 V264.1" stroke="#111" stroke-width="1.0" fill="none"/>
<path d="M342.37,267.50 C342.84,267.57 344.47,267.68 345.17,267.90 C345.87,268.12 346.25,268.45 346.57,268.80 C346.89,269.15 347.07,269.60 347.07,270.00 C347.07,270.40 346.80,270.80 346.57,271.20 C346.34,271.60 345.77,272.00 345.67,272.40 C345.57,272.80 345.60,273.17 345.97,273.60 C346.34,274.03 347.14,274.55 347.87,275.00 C348.60,275.45 349.95,276.08 350.37,276.30 L334.37,276.30 C334.79,276.08 336.14,275.45 336.87,275.00 C337.60,274.55 338.40,274.03 338.77,273.60 C339.14,273.17 339.17,272.80 339.07,272.40 C338.97,272.00 338.40,271.60 338.17,271.20 C337.94,270.80 337.67,270.40 337.67,270.00 C337.67,269.60 337.85,269.15 338.17,268.80 C338.49,268.45 338.87,268.12 339.57,267.90 C340.27,267.68 341.90,267.57 342.37,267.50 Z" fill="#F8766D" stroke="#111" stroke-width="0.85" stroke-linejoin="round"/>
<path d="M361.50,276.8 V265.6" stroke="#111" stroke-width="1.0" fill="none"/>
<path d="M384.08,267.50 C384.66,267.57 386.41,267.68 387.58,267.90 C388.75,268.12 390.21,268.45 391.08,268.80 C391.95,269.15 392.75,269.57 392.78,270.00 C392.81,270.43 391.93,270.97 391.28,271.40 C390.63,271.83 389.41,272.23 388.88,272.60 C388.35,272.97 387.96,273.20 388.08,273.60 C388.20,274.00 388.83,274.55 389.58,275.00 C390.33,275.45 392.08,276.08 392.58,276.30 L375.58,276.30 C376.08,276.08 377.83,275.45 378.58,275.00 C379.33,274.55 379.96,274.00 380.08,273.60 C380.20,273.20 379.81,272.97 379.28,272.60 C378.75,272.23 377.53,271.83 376.88,271.40 C376.23,270.97 375.35,270.43 375.38,270.00 C375.41,269.57 376.21,269.15 377.08,268.80 C377.95,268.45 379.41,268.12 380.58,267.90 C381.75,267.68 383.50,267.57 384.08,267.50 Z" fill="#F8766D" stroke="#111" stroke-width="0.85" stroke-linejoin="round"/>
<path d="M403.50,276.8 V268.2" stroke="#111" stroke-width="1.0" fill="none"/>
<path d="M425.79,268.00 C425.99,268.07 426.39,268.18 426.99,268.40 C427.59,268.62 428.66,268.97 429.39,269.30 C430.12,269.63 431.19,270.05 431.39,270.40 C431.59,270.75 431.02,271.03 430.59,271.40 C430.16,271.77 429.26,272.20 428.79,272.60 C428.32,273.00 427.97,273.47 427.79,273.80 C427.61,274.13 427.36,274.32 427.69,274.60 C428.02,274.88 428.77,275.20 429.79,275.50 C430.81,275.80 433.12,276.25 433.79,276.40 L417.79,276.40 C418.46,276.25 420.77,275.80 421.79,275.50 C422.81,275.20 423.56,274.88 423.89,274.60 C424.22,274.32 423.97,274.13 423.79,273.80 C423.61,273.47 423.26,273.00 422.79,272.60 C422.32,272.20 421.42,271.77 420.99,271.40 C420.56,271.03 419.99,270.75 420.19,270.40 C420.39,270.05 421.46,269.63 422.19,269.30 C422.92,268.97 423.99,268.62 424.59,268.40 C425.19,268.18 425.59,268.07 425.79,268.00 Z" fill="#F8766D" stroke="#111" stroke-width="0.85" stroke-linejoin="round"/>
<path d="M444.79,267.00 C444.84,267.10 445.02,267.07 445.09,267.60 C445.16,268.13 445.01,269.63 445.19,270.20 C445.37,270.77 445.86,270.75 446.14,270.99 C446.42,271.24 446.68,271.42 446.87,271.68 C447.06,271.94 447.20,272.29 447.29,272.56 C447.38,272.83 447.40,273.05 447.39,273.30 C447.38,273.54 447.35,273.79 447.24,274.03 C447.13,274.28 446.96,274.55 446.73,274.76 C446.50,274.98 446.08,275.14 445.86,275.30 C445.64,275.47 445.39,275.63 445.39,275.75 C445.39,275.87 445.56,275.91 445.89,276.00 C446.21,276.09 446.60,276.24 447.34,276.30 C448.08,276.36 449.32,276.27 450.31,276.35 C451.31,276.43 452.79,276.73 453.29,276.80 L436.29,276.80 C436.79,276.73 438.27,276.43 439.26,276.35 C440.26,276.27 441.50,276.36 442.24,276.30 C442.98,276.24 443.36,276.09 443.69,276.00 C444.01,275.91 444.19,275.87 444.19,275.75 C444.19,275.63 443.94,275.47 443.72,275.30 C443.50,275.14 443.08,274.98 442.85,274.76 C442.62,274.55 442.45,274.28 442.34,274.03 C442.23,273.79 442.20,273.54 442.19,273.30 C442.18,273.05 442.20,272.83 442.29,272.56 C442.38,272.29 442.52,271.94 442.71,271.68 C442.90,271.42 443.16,271.24 443.44,270.99 C443.72,270.75 444.21,270.77 444.39,270.20 C444.57,269.63 444.42,268.13 444.49,267.60 C444.56,267.07 444.74,267.10 444.79,267.00 Z" fill="#12929A" stroke="#111" stroke-width="0.85" stroke-linejoin="round"/>
<path d="M467.50,265.80 C467.77,265.88 468.30,266.00 469.10,266.30 C469.90,266.60 471.27,267.12 472.30,267.60 C473.33,268.08 475.00,268.72 475.30,269.20 C475.60,269.68 474.77,270.03 474.10,270.50 C473.43,270.97 472.02,271.52 471.30,272.00 C470.58,272.48 470.10,273.00 469.80,273.40 C469.50,273.80 469.22,274.05 469.50,274.40 C469.78,274.75 470.50,275.17 471.50,275.50 C472.50,275.83 474.83,276.25 475.50,276.40 L459.50,276.40 C460.17,276.25 462.50,275.83 463.50,275.50 C464.50,275.17 465.22,274.75 465.50,274.40 C465.78,274.05 465.50,273.80 465.20,273.40 C464.90,273.00 464.42,272.48 463.70,272.00 C462.98,271.52 461.57,270.97 460.90,270.50 C460.23,270.03 459.40,269.68 459.70,269.20 C460.00,268.72 461.67,268.08 462.70,267.60 C463.73,267.12 465.10,266.60 465.90,266.30 C466.70,266.00 467.23,265.88 467.50,265.80 Z" fill="#F8766D" stroke="#111" stroke-width="0.85" stroke-linejoin="round"/>
<path d="M486.50,276.8 V265.8" stroke="#111" stroke-width="1.0" fill="none"/>
<path d="M34.2,276.8 H503" stroke="#000" stroke-width="1.7" fill="none"/>
<path d="M34.9,279.0 V296.5" stroke="#000" stroke-width="1.5" fill="none"/>
<path d="M32.9,279.5 H34.5" stroke="#000" stroke-width="0.6" fill="none"/>
<text x="31.40" y="280.60" font-size="2.6" text-anchor="end" fill="#231F20">6</text>
<text x="6.8" y="289.10" font-size="5.5" fill="#231F20"><tspan font-weight="bold">(L) </tspan><tspan font-style="italic" fill="#3A3A3C">Nrg1</tspan></text>
<path d="M50.50,295.8 V289.3" stroke="#111" stroke-width="1.0" fill="none"/>
<path d="M69.40,284.20 C69.67,284.58 70.58,285.82 71.00,286.50 C71.42,287.18 71.80,287.72 71.90,288.30 C72.00,288.88 71.85,289.47 71.60,290.00 C71.35,290.53 70.63,291.07 70.40,291.50 C70.17,291.93 69.87,292.15 70.20,292.60 C70.53,293.05 71.37,293.75 72.40,294.20 C73.43,294.65 75.32,295.03 76.40,295.30 C77.48,295.57 78.48,295.72 78.90,295.80 L59.90,295.80 C60.32,295.72 61.32,295.57 62.40,295.30 C63.48,295.03 65.37,294.65 66.40,294.20 C67.43,293.75 68.27,293.05 68.60,292.60 C68.93,292.15 68.63,291.93 68.40,291.50 C68.17,291.07 67.45,290.53 67.20,290.00 C66.95,289.47 66.80,288.88 66.90,288.30 C67.00,287.72 67.38,287.18 67.80,286.50 C68.22,285.82 69.13,284.58 69.40,284.20 Z" fill="#12929A" stroke="#111" stroke-width="0.85" stroke-linejoin="round"/>
<path d="M92.50,295.8 V289.3" stroke="#111" stroke-width="1.0" fill="none"/>
<path d="M111.11,285.60 C111.28,286.00 111.73,287.27 112.11,288.00 C112.49,288.73 113.08,289.37 113.41,290.00 C113.74,290.63 114.13,291.25 114.11,291.80 C114.09,292.35 113.58,292.87 113.31,293.30 C113.04,293.73 112.21,294.08 112.51,294.40 C112.81,294.72 113.93,294.97 115.11,295.20 C116.29,295.43 118.86,295.70 119.61,295.80 L102.61,295.80 C103.36,295.70 105.93,295.43 107.11,295.20 C108.29,294.97 109.41,294.72 109.71,294.40 C110.01,294.08 109.18,293.73 108.91,293.30 C108.64,292.87 108.13,292.35 108.11,291.80 C108.09,291.25 108.48,290.63 108.81,290.00 C109.14,289.37 109.73,288.73 110.11,288.00 C110.49,287.27 110.94,286.00 111.11,285.60 Z" fill="#12929A" stroke="#111" stroke-width="0.85" stroke-linejoin="round"/>
<path d="M133.50,295.8 V288.5" stroke="#111" stroke-width="1.0" fill="none"/>
<path d="M152.82,282.00 C152.99,282.17 153.32,282.70 153.82,283.00 C154.32,283.30 154.90,283.47 155.82,283.80 C156.74,284.13 158.32,284.58 159.32,285.00 C160.32,285.42 161.27,285.92 161.82,286.30 C162.37,286.68 162.70,286.92 162.62,287.30 C162.54,287.68 162.04,288.10 161.32,288.60 C160.60,289.10 159.32,289.72 158.32,290.30 C157.32,290.88 156.09,291.57 155.32,292.10 C154.55,292.63 153.89,293.05 153.72,293.50 C153.55,293.95 153.47,294.42 154.32,294.80 C155.17,295.18 158.07,295.63 158.82,295.80 L146.82,295.80 C147.57,295.63 150.47,295.18 151.32,294.80 C152.17,294.42 152.09,293.95 151.92,293.50 C151.75,293.05 151.09,292.63 150.32,292.10 C149.55,291.57 148.32,290.88 147.32,290.30 C146.32,289.72 145.04,289.10 144.32,288.60 C143.60,288.10 143.10,287.68 143.02,287.30 C142.94,286.92 143.27,286.68 143.82,286.30 C144.37,285.92 145.32,285.42 146.32,285.00 C147.32,284.58 148.90,284.13 149.82,283.80 C150.74,283.47 151.32,283.30 151.82,283.00 C152.32,282.70 152.65,282.17 152.82,282.00 Z" fill="#12929A" stroke="#111" stroke-width="0.85" stroke-linejoin="round"/>
<path d="M175.50,295.8 V288.5" stroke="#111" stroke-width="1.0" fill="none"/>
<path d="M194.53,282.70 C194.70,282.87 195.03,283.38 195.53,283.70 C196.03,284.02 196.61,284.23 197.53,284.60 C198.45,284.97 200.03,285.43 201.03,285.90 C202.03,286.37 203.03,286.95 203.53,287.40 C204.03,287.85 204.15,288.18 204.03,288.60 C203.91,289.02 203.53,289.42 202.83,289.90 C202.13,290.38 200.83,290.95 199.83,291.50 C198.83,292.05 197.55,292.72 196.83,293.20 C196.11,293.68 195.66,294.07 195.53,294.40 C195.40,294.73 195.20,294.97 196.03,295.20 C196.86,295.43 199.78,295.70 200.53,295.80 L188.53,295.80 C189.28,295.70 192.20,295.43 193.03,295.20 C193.86,294.97 193.66,294.73 193.53,294.40 C193.40,294.07 192.95,293.68 192.23,293.20 C191.51,292.72 190.23,292.05 189.23,291.50 C188.23,290.95 186.93,290.38 186.23,289.90 C185.53,289.42 185.15,289.02 185.03,288.60 C184.91,288.18 185.03,287.85 185.53,287.40 C186.03,286.95 187.03,286.37 188.03,285.90 C189.03,285.43 190.61,284.97 191.53,284.60 C192.45,284.23 193.03,284.02 193.53,283.70 C194.03,283.38 194.36,282.87 194.53,282.70 Z" fill="#12929A" stroke="#111" stroke-width="0.85" stroke-linejoin="round"/>
<path d="M217.50,295.8 V289.3" stroke="#111" stroke-width="1.0" fill="none"/>
<path d="M236.24,284.20 C236.29,284.30 236.47,284.07 236.54,284.80 C236.61,285.53 236.43,287.83 236.64,288.60 C236.85,289.37 237.46,289.18 237.80,289.45 C238.13,289.72 238.42,289.93 238.64,290.23 C238.86,290.53 239.03,290.93 239.13,291.24 C239.23,291.55 239.25,291.80 239.24,292.08 C239.23,292.36 239.20,292.64 239.07,292.92 C238.94,293.20 238.74,293.52 238.48,293.76 C238.21,294.00 237.75,294.19 237.48,294.38 C237.20,294.56 236.86,294.73 236.84,294.85 C236.82,294.97 236.97,295.01 237.34,295.10 C237.72,295.19 238.24,295.36 239.09,295.40 C239.94,295.44 241.31,295.28 242.42,295.35 C243.52,295.42 245.19,295.73 245.74,295.80 L226.74,295.80 C227.29,295.73 228.96,295.42 230.06,295.35 C231.17,295.28 232.54,295.44 233.39,295.40 C234.24,295.36 234.77,295.19 235.14,295.10 C235.52,295.01 235.66,294.97 235.64,294.85 C235.62,294.73 235.28,294.56 235.00,294.38 C234.73,294.19 234.27,294.00 234.00,293.76 C233.74,293.52 233.54,293.20 233.41,292.92 C233.28,292.64 233.25,292.36 233.24,292.08 C233.23,291.80 233.25,291.55 233.35,291.24 C233.45,290.93 233.62,290.53 233.84,290.23 C234.06,289.93 234.35,289.72 234.68,289.45 C235.02,289.18 235.63,289.37 235.84,288.60 C236.05,287.83 235.87,285.53 235.94,284.80 C236.01,284.07 236.19,284.30 236.24,284.20 Z" fill="#12929A" stroke="#111" stroke-width="0.85" stroke-linejoin="round"/>
<path d="M258.50,295.8 V283.5" stroke="#111" stroke-width="1.0" fill="none"/>
<path d="M277.95,281.30 C278.00,281.40 278.18,280.68 278.25,281.90 C278.32,283.12 278.20,287.35 278.35,288.60 C278.50,289.85 278.90,289.15 279.14,289.40 C279.38,289.65 279.62,289.83 279.79,290.10 C279.96,290.37 280.09,290.73 280.16,291.00 C280.24,291.27 280.26,291.50 280.25,291.75 C280.24,292.00 280.22,292.25 280.12,292.50 C280.02,292.75 279.87,293.03 279.66,293.25 C279.46,293.47 279.08,293.63 278.90,293.80 C278.71,293.97 278.52,294.13 278.55,294.25 C278.58,294.37 278.65,294.41 279.05,294.50 C279.45,294.59 280.05,294.66 280.95,294.80 C281.85,294.94 283.28,295.18 284.45,295.35 C285.62,295.52 287.37,295.73 287.95,295.80 L267.95,295.80 C268.53,295.73 270.28,295.52 271.45,295.35 C272.62,295.18 274.05,294.94 274.95,294.80 C275.85,294.66 276.45,294.59 276.85,294.50 C277.25,294.41 277.32,294.37 277.35,294.25 C277.38,294.13 277.19,293.97 277.00,293.80 C276.82,293.63 276.44,293.47 276.24,293.25 C276.03,293.03 275.88,292.75 275.78,292.50 C275.68,292.25 275.66,292.00 275.65,291.75 C275.64,291.50 275.66,291.27 275.74,291.00 C275.81,290.73 275.94,290.37 276.11,290.10 C276.28,289.83 276.52,289.65 276.76,289.40 C277.00,289.15 277.40,289.85 277.55,288.60 C277.70,287.35 277.58,283.12 277.65,281.90 C277.72,280.68 277.90,281.40 277.95,281.30 Z" fill="#12929A" stroke="#111" stroke-width="0.85" stroke-linejoin="round"/>
<path d="M300.50,295.8 V287.8" stroke="#111" stroke-width="1.0" fill="none"/>
<path d="M319.66,282.00 C319.71,282.10 319.89,281.47 319.96,282.60 C320.03,283.73 319.93,287.64 320.06,288.80 C320.19,289.96 320.54,289.34 320.75,289.58 C320.96,289.81 321.19,289.98 321.34,290.23 C321.49,290.48 321.61,290.82 321.68,291.08 C321.75,291.34 321.77,291.55 321.76,291.78 C321.75,292.02 321.73,292.25 321.64,292.49 C321.55,292.73 321.41,292.99 321.23,293.19 C321.04,293.40 320.69,293.55 320.53,293.71 C320.36,293.87 320.22,294.04 320.26,294.15 C320.30,294.26 320.36,294.29 320.76,294.40 C321.16,294.51 321.76,294.64 322.66,294.80 C323.56,294.96 324.99,295.18 326.16,295.35 C327.33,295.52 329.08,295.73 329.66,295.80 L309.66,295.80 C310.24,295.73 311.99,295.52 313.16,295.35 C314.33,295.18 315.76,294.96 316.66,294.80 C317.56,294.64 318.16,294.51 318.56,294.40 C318.96,294.29 319.02,294.26 319.06,294.15 C319.10,294.04 318.96,293.87 318.79,293.71 C318.63,293.55 318.28,293.40 318.09,293.19 C317.91,292.99 317.77,292.73 317.68,292.49 C317.59,292.25 317.57,292.02 317.56,291.78 C317.55,291.55 317.57,291.34 317.64,291.08 C317.71,290.82 317.83,290.48 317.98,290.23 C318.13,289.98 318.36,289.81 318.57,289.58 C318.78,289.34 319.13,289.96 319.26,288.80 C319.39,287.64 319.29,283.73 319.36,282.60 C319.43,281.47 319.61,282.10 319.66,282.00 Z" fill="#12929A" stroke="#111" stroke-width="0.85" stroke-linejoin="round"/>
<path d="M342.50,295.8 V287.8" stroke="#111" stroke-width="1.0" fill="none"/>
<path d="M361.37,283.50 C361.67,283.83 362.64,284.88 363.17,285.50 C363.70,286.12 364.29,286.67 364.57,287.20 C364.85,287.73 365.00,288.18 364.87,288.70 C364.74,289.22 364.19,289.78 363.77,290.30 C363.35,290.82 362.60,291.38 362.37,291.80 C362.14,292.22 361.95,292.38 362.37,292.80 C362.79,293.22 363.79,293.88 364.87,294.30 C365.95,294.72 367.79,295.05 368.87,295.30 C369.95,295.55 370.95,295.72 371.37,295.80 L351.37,295.80 C351.79,295.72 352.79,295.55 353.87,295.30 C354.95,295.05 356.79,294.72 357.87,294.30 C358.95,293.88 359.95,293.22 360.37,292.80 C360.79,292.38 360.60,292.22 360.37,291.80 C360.14,291.38 359.39,290.82 358.97,290.30 C358.55,289.78 358.00,289.22 357.87,288.70 C357.74,288.18 357.89,287.73 358.17,287.20 C358.45,286.67 359.04,286.12 359.57,285.50 C360.10,284.88 361.07,283.83 361.37,283.50 Z" fill="#12929A" stroke="#111" stroke-width="0.85" stroke-linejoin="round"/>
<path d="M384.50,295.8 V292.2" stroke="#111" stroke-width="1.0" fill="none"/>
<path d="M403.08,284.90 C403.30,285.25 403.96,286.32 404.38,287.00 C404.80,287.68 405.30,288.38 405.58,289.00 C405.86,289.62 406.13,290.15 406.08,290.70 C406.03,291.25 405.61,291.82 405.28,292.30 C404.95,292.78 403.86,293.18 404.08,293.60 C404.30,294.02 405.33,294.43 406.58,294.80 C407.83,295.17 410.75,295.63 411.58,295.80 L394.58,295.80 C395.41,295.63 398.33,295.17 399.58,294.80 C400.83,294.43 401.86,294.02 402.08,293.60 C402.30,293.18 401.21,292.78 400.88,292.30 C400.55,291.82 400.13,291.25 400.08,290.70 C400.03,290.15 400.30,289.62 400.58,289.00 C400.86,288.38 401.36,287.68 401.78,287.00 C402.20,286.32 402.86,285.25 403.08,284.90 Z" fill="#12929A" stroke="#111" stroke-width="0.85" stroke-linejoin="round"/>
<path d="M425.50,295.8 V286.5" stroke="#111" stroke-width="1.0" fill="none"/>
<path d="M444.79,284.80 C445.37,284.87 447.04,284.95 448.29,285.20 C449.54,285.45 451.29,285.83 452.29,286.30 C453.29,286.77 453.87,287.48 454.29,288.00 C454.71,288.52 454.96,288.95 454.79,289.40 C454.62,289.85 454.21,290.25 453.29,290.70 C452.37,291.15 450.21,291.65 449.29,292.10 C448.37,292.55 447.87,292.98 447.79,293.40 C447.71,293.82 447.96,294.20 448.79,294.60 C449.62,295.00 452.12,295.60 452.79,295.80 L436.79,295.80 C437.46,295.60 439.96,295.00 440.79,294.60 C441.62,294.20 441.87,293.82 441.79,293.40 C441.71,292.98 441.21,292.55 440.29,292.10 C439.37,291.65 437.21,291.15 436.29,290.70 C435.37,290.25 434.96,289.85 434.79,289.40 C434.62,288.95 434.87,288.52 435.29,288.00 C435.71,287.48 436.29,286.77 437.29,286.30 C438.29,285.83 440.04,285.45 441.29,285.20 C442.54,284.95 444.21,284.87 444.79,284.80 Z" fill="#12929A" stroke="#111" stroke-width="0.85" stroke-linejoin="round"/>
<path d="M467.50,295.8 V288.2" stroke="#111" stroke-width="1.0" fill="none"/>
<path d="M486.50,283.60 C486.57,283.75 486.77,284.05 486.90,284.50 C487.03,284.95 487.05,285.72 487.30,286.30 C487.55,286.88 488.10,287.45 488.40,288.00 C488.70,288.55 489.08,289.10 489.10,289.60 C489.12,290.10 488.78,290.55 488.50,291.00 C488.22,291.45 487.57,291.88 487.40,292.30 C487.23,292.72 487.07,293.08 487.50,293.50 C487.93,293.92 488.67,294.42 490.00,294.80 C491.33,295.18 494.58,295.63 495.50,295.80 L477.50,295.80 C478.42,295.63 481.67,295.18 483.00,294.80 C484.33,294.42 485.07,293.92 485.50,293.50 C485.93,293.08 485.77,292.72 485.60,292.30 C485.43,291.88 484.78,291.45 484.50,291.00 C484.22,290.55 483.88,290.10 483.90,289.60 C483.92,289.10 484.30,288.55 484.60,288.00 C484.90,287.45 485.45,286.88 485.70,286.30 C485.95,285.72 485.97,284.95 486.10,284.50 C486.23,284.05 486.43,283.75 486.50,283.60 Z" fill="#12929A" stroke="#111" stroke-width="0.85" stroke-linejoin="round"/>
<path d="M34.2,295.8 H503" stroke="#000" stroke-width="1.7" fill="none"/>
<path d="M34.9,298.7 V315.6" stroke="#000" stroke-width="1.5" fill="none"/>
<path d="M32.9,299.2 H34.5" stroke="#000" stroke-width="0.6" fill="none"/>
<text x="31.40" y="300.30" font-size="2.6" text-anchor="end" fill="#231F20">4</text>
<text x="6.8" y="308.20" font-size="5.5" fill="#231F20"><tspan font-weight="bold">(L) </tspan><tspan font-style="italic" fill="#3A3A3C">Nrg4</tspan></text>
<path d="M50.50,314.9 V304.2" stroke="#111" stroke-width="1.0" fill="none"/>
<path d="M69.50,314.9 V302.9" stroke="#111" stroke-width="1.0" fill="none"/>
<path d="M92.50,314.9 V307.3" stroke="#111" stroke-width="1.0" fill="none"/>
<path d="M111.50,314.9 V304.2" stroke="#111" stroke-width="1.0" fill="none"/>
<path d="M133.50,314.9 V305.5" stroke="#111" stroke-width="1.0" fill="none"/>
<path d="M152.50,314.9 V306.5" stroke="#111" stroke-width="1.0" fill="none"/>
<path d="M175.50,314.9 V302.9" stroke="#111" stroke-width="1.0" fill="none"/>
<path d="M194.53,301.10 C194.58,301.20 194.76,300.65 194.83,301.70 C194.90,302.75 194.84,306.31 194.93,307.40 C195.02,308.49 195.21,307.97 195.36,308.23 C195.51,308.50 195.69,308.70 195.81,308.99 C195.93,309.28 196.02,309.66 196.07,309.96 C196.12,310.26 196.14,310.50 196.13,310.77 C196.12,311.04 196.11,311.31 196.04,311.58 C195.97,311.85 195.86,312.16 195.72,312.39 C195.58,312.62 195.29,312.81 195.19,312.98 C195.09,313.16 195.06,313.33 195.13,313.45 C195.20,313.57 195.23,313.61 195.63,313.70 C196.03,313.79 196.63,313.88 197.53,314.00 C198.43,314.12 199.86,314.30 201.03,314.45 C202.20,314.60 203.95,314.82 204.53,314.90 L184.53,314.90 C185.11,314.82 186.86,314.60 188.03,314.45 C189.20,314.30 190.63,314.12 191.53,314.00 C192.43,313.88 193.03,313.79 193.43,313.70 C193.83,313.61 193.86,313.57 193.93,313.45 C194.00,313.33 193.97,313.16 193.87,312.98 C193.77,312.81 193.48,312.62 193.34,312.39 C193.20,312.16 193.09,311.85 193.02,311.58 C192.95,311.31 192.94,311.04 192.93,310.77 C192.92,310.50 192.94,310.26 192.99,309.96 C193.04,309.66 193.13,309.28 193.25,308.99 C193.37,308.70 193.55,308.50 193.70,308.23 C193.85,307.97 194.04,308.49 194.13,307.40 C194.22,306.31 194.16,302.75 194.23,301.70 C194.30,300.65 194.48,301.20 194.53,301.10 Z" fill="#12929A" stroke="#111" stroke-width="0.85" stroke-linejoin="round"/>
<path d="M217.50,314.9 V303.6" stroke="#111" stroke-width="1.0" fill="none"/>
<path d="M236.50,314.9 V306.0" stroke="#111" stroke-width="1.0" fill="none"/>
<path d="M258.50,314.9 V303.3" stroke="#111" stroke-width="1.0" fill="none"/>
<path d="M277.50,314.9 V305.1" stroke="#111" stroke-width="1.0" fill="none"/>
<path d="M300.50,314.9 V300.5" stroke="#111" stroke-width="1.0" fill="none"/>
<path d="M319.50,314.9 V299.3" stroke="#111" stroke-width="1.0" fill="none"/>
<path d="M342.50,314.9 V303.6" stroke="#111" stroke-width="1.0" fill="none"/>
<path d="M361.50,314.9 V302.9" stroke="#111" stroke-width="1.0" fill="none"/>
<path d="M384.50,314.9 V305.5" stroke="#111" stroke-width="1.0" fill="none"/>
<path d="M403.50,314.9 V308.1" stroke="#111" stroke-width="1.0" fill="none"/>
<path d="M425.50,314.9 V306.0" stroke="#111" stroke-width="1.0" fill="none"/>
<path d="M444.50,314.9 V310.2" stroke="#111" stroke-width="1.0" fill="none"/>
<path d="M467.50,314.9 V301.9" stroke="#111" stroke-width="1.0" fill="none"/>
<path d="M486.50,314.9 V303.3" stroke="#111" stroke-width="1.0" fill="none"/>
<path d="M34.2,314.9 H503" stroke="#000" stroke-width="1.7" fill="none"/>
<path d="M34.9,318.2 V334.7" stroke="#000" stroke-width="1.5" fill="none"/>
<path d="M32.9,318.7 H34.5" stroke="#000" stroke-width="0.6" fill="none"/>
<text x="31.40" y="319.80" font-size="2.6" text-anchor="end" fill="#231F20">5</text>
<text x="6.8" y="327.30" font-size="5.5" fill="#231F20"><tspan font-weight="bold">(R) </tspan><tspan font-style="italic" fill="#3A3A3C">Itgav</tspan></text>
<path d="M50.50,334.0 V325.1" stroke="#111" stroke-width="1.0" fill="none"/>
<path d="M69.50,334.0 V323.3" stroke="#111" stroke-width="1.0" fill="none"/>
<path d="M92.50,334.0 V325.1" stroke="#111" stroke-width="1.0" fill="none"/>
<path d="M111.11,322.40 C111.31,322.83 111.83,324.15 112.31,325.00 C112.79,325.85 113.48,326.73 114.01,327.50 C114.54,328.27 115.58,328.97 115.51,329.60 C115.44,330.23 114.18,330.78 113.61,331.30 C113.04,331.82 112.03,332.35 112.11,332.70 C112.19,333.05 112.94,333.18 114.11,333.40 C115.28,333.62 118.28,333.90 119.11,334.00 L103.11,334.00 C103.94,333.90 106.94,333.62 108.11,333.40 C109.28,333.18 110.03,333.05 110.11,332.70 C110.19,332.35 109.18,331.82 108.61,331.30 C108.04,330.78 106.78,330.23 106.71,329.60 C106.64,328.97 107.68,328.27 108.21,327.50 C108.74,326.73 109.43,325.85 109.91,325.00 C110.39,324.15 110.91,322.83 111.11,322.40 Z" fill="#12929A" stroke="#111" stroke-width="0.85" stroke-linejoin="round"/>
<path d="M133.50,334.0 V324.7" stroke="#111" stroke-width="1.0" fill="none"/>
<path d="M152.82,325.10 C152.87,325.20 153.05,325.18 153.12,325.70 C153.19,326.22 153.11,327.66 153.22,328.20 C153.33,328.74 153.62,328.72 153.81,328.95 C153.99,329.18 154.20,329.33 154.34,329.57 C154.48,329.80 154.58,330.12 154.65,330.36 C154.71,330.60 154.73,330.80 154.72,331.02 C154.71,331.24 154.69,331.46 154.61,331.68 C154.53,331.90 154.40,332.15 154.24,332.34 C154.07,332.53 153.74,332.67 153.60,332.82 C153.47,332.98 153.37,333.14 153.42,333.25 C153.47,333.36 153.59,333.41 153.92,333.50 C154.25,333.59 154.63,333.79 155.37,333.80 C156.11,333.81 157.35,333.52 158.34,333.55 C159.34,333.58 160.82,333.93 161.32,334.00 L144.32,334.00 C144.82,333.93 146.30,333.58 147.29,333.55 C148.29,333.52 149.53,333.81 150.27,333.80 C151.01,333.79 151.39,333.59 151.72,333.50 C152.05,333.41 152.17,333.36 152.22,333.25 C152.27,333.14 152.17,332.98 152.04,332.82 C151.90,332.67 151.57,332.53 151.40,332.34 C151.24,332.15 151.11,331.90 151.03,331.68 C150.95,331.46 150.93,331.24 150.92,331.02 C150.91,330.80 150.93,330.60 150.99,330.36 C151.06,330.12 151.16,329.80 151.30,329.57 C151.44,329.33 151.65,329.18 151.83,328.95 C152.02,328.72 152.31,328.74 152.42,328.20 C152.53,327.66 152.45,326.22 152.52,325.70 C152.59,325.18 152.77,325.20 152.82,325.10 Z" fill="#12929A" stroke="#111" stroke-width="0.85" stroke-linejoin="round"/>
<path d="M175.50,334.0 V325.1" stroke="#111" stroke-width="1.0" fill="none"/>
<path d="M194.53,322.40 C194.58,322.50 194.76,322.33 194.83,323.00 C194.90,323.67 194.80,325.70 194.93,326.40 C195.06,327.10 195.41,326.96 195.62,327.22 C195.83,327.47 196.06,327.67 196.21,327.94 C196.36,328.22 196.48,328.59 196.55,328.88 C196.62,329.17 196.64,329.40 196.63,329.66 C196.62,329.92 196.60,330.18 196.51,330.44 C196.42,330.70 196.28,330.99 196.10,331.22 C195.91,331.45 195.56,331.62 195.40,331.79 C195.23,331.96 195.09,332.13 195.13,332.25 C195.17,332.37 195.28,332.38 195.63,332.50 C195.98,332.62 196.44,332.82 197.23,333.00 C198.02,333.18 199.33,333.38 200.38,333.55 C201.43,333.72 203.00,333.93 203.53,334.00 L185.53,334.00 C186.06,333.93 187.63,333.72 188.68,333.55 C189.73,333.38 191.04,333.18 191.83,333.00 C192.62,332.82 193.08,332.62 193.43,332.50 C193.78,332.38 193.89,332.37 193.93,332.25 C193.97,332.13 193.83,331.96 193.66,331.79 C193.50,331.62 193.15,331.45 192.96,331.22 C192.78,330.99 192.64,330.70 192.55,330.44 C192.46,330.18 192.44,329.92 192.43,329.66 C192.42,329.40 192.44,329.17 192.51,328.88 C192.58,328.59 192.70,328.22 192.85,327.94 C193.00,327.67 193.23,327.47 193.44,327.22 C193.65,326.96 194.00,327.10 194.13,326.40 C194.26,325.70 194.16,323.67 194.23,323.00 C194.30,322.33 194.48,322.50 194.53,322.40 Z" fill="#12929A" stroke="#111" stroke-width="0.85" stroke-linejoin="round"/>
<path d="M217.50,334.0 V326.0" stroke="#111" stroke-width="1.0" fill="none"/>
<path d="M236.24,325.10 C236.51,325.38 237.27,326.23 237.84,326.80 C238.41,327.37 239.09,327.93 239.64,328.50 C240.19,329.07 241.16,329.68 241.14,330.20 C241.12,330.72 240.09,331.17 239.54,331.60 C238.99,332.03 237.64,332.48 237.84,332.80 C238.04,333.12 239.51,333.30 240.74,333.50 C241.97,333.70 244.49,333.92 245.24,334.00 L227.24,334.00 C227.99,333.92 230.51,333.70 231.74,333.50 C232.97,333.30 234.44,333.12 234.64,332.80 C234.84,332.48 233.49,332.03 232.94,331.60 C232.39,331.17 231.36,330.72 231.34,330.20 C231.32,329.68 232.29,329.07 232.84,328.50 C233.39,327.93 234.07,327.37 234.64,326.80 C235.21,326.23 235.97,325.38 236.24,325.10 Z" fill="#12929A" stroke="#111" stroke-width="0.85" stroke-linejoin="round"/>
<path d="M258.50,334.0 V323.6" stroke="#111" stroke-width="1.0" fill="none"/>
<path d="M277.95,323.30 C278.00,323.40 278.18,323.38 278.25,323.90 C278.32,324.42 278.24,325.85 278.35,326.40 C278.46,326.95 278.75,326.94 278.94,327.18 C279.12,327.43 279.33,327.60 279.47,327.86 C279.61,328.11 279.71,328.46 279.78,328.72 C279.84,328.98 279.86,329.20 279.85,329.44 C279.84,329.68 279.82,329.92 279.74,330.16 C279.66,330.40 279.53,330.67 279.37,330.88 C279.20,331.09 278.87,331.25 278.73,331.41 C278.60,331.57 278.50,331.70 278.55,331.85 C278.60,332.00 278.73,332.11 279.05,332.30 C279.38,332.49 279.76,332.79 280.50,333.00 C281.24,333.21 282.48,333.38 283.47,333.55 C284.47,333.72 285.95,333.93 286.45,334.00 L269.45,334.00 C269.95,333.93 271.43,333.72 272.43,333.55 C273.42,333.38 274.66,333.21 275.40,333.00 C276.14,332.79 276.52,332.49 276.85,332.30 C277.17,332.11 277.30,332.00 277.35,331.85 C277.40,331.70 277.30,331.57 277.17,331.41 C277.03,331.25 276.70,331.09 276.53,330.88 C276.37,330.67 276.24,330.40 276.16,330.16 C276.08,329.92 276.06,329.68 276.05,329.44 C276.04,329.20 276.06,328.98 276.12,328.72 C276.19,328.46 276.29,328.11 276.43,327.86 C276.57,327.60 276.78,327.43 276.96,327.18 C277.15,326.94 277.44,326.95 277.55,326.40 C277.66,325.85 277.58,324.42 277.65,323.90 C277.72,323.38 277.90,323.40 277.95,323.30 Z" fill="#12929A" stroke="#111" stroke-width="0.85" stroke-linejoin="round"/>
<path d="M300.50,334.0 V324.7" stroke="#111" stroke-width="1.0" fill="none"/>
<path d="M319.66,320.00 C319.86,320.38 320.43,321.55 320.86,322.30 C321.29,323.05 321.83,323.80 322.26,324.50 C322.69,325.20 323.18,325.88 323.46,326.50 C323.74,327.12 323.99,327.65 323.96,328.20 C323.93,328.75 323.68,329.35 323.26,329.80 C322.84,330.25 321.86,330.48 321.46,330.90 C321.06,331.32 320.49,331.87 320.86,332.30 C321.23,332.73 322.44,333.22 323.66,333.50 C324.88,333.78 327.41,333.92 328.16,334.00 L311.16,334.00 C311.91,333.92 314.44,333.78 315.66,333.50 C316.88,333.22 318.09,332.73 318.46,332.30 C318.83,331.87 318.26,331.32 317.86,330.90 C317.46,330.48 316.48,330.25 316.06,329.80 C315.64,329.35 315.39,328.75 315.36,328.20 C315.33,327.65 315.58,327.12 315.86,326.50 C316.14,325.88 316.63,325.20 317.06,324.50 C317.49,323.80 318.03,323.05 318.46,322.30 C318.89,321.55 319.46,320.38 319.66,320.00 Z" fill="#12929A" stroke="#111" stroke-width="0.85" stroke-linejoin="round"/>
<path d="M342.50,334.0 V326.0" stroke="#111" stroke-width="1.0" fill="none"/>
<path d="M361.50,334.0 V322.4" stroke="#111" stroke-width="1.0" fill="none"/>
<path d="M384.50,334.0 V326.5" stroke="#111" stroke-width="1.0" fill="none"/>
<path d="M403.08,324.20 C403.13,324.30 403.31,324.47 403.38,324.80 C403.45,325.13 403.35,325.84 403.48,326.20 C403.61,326.56 403.96,326.74 404.17,326.98 C404.38,327.23 404.61,327.40 404.76,327.66 C404.91,327.91 405.03,328.26 405.10,328.52 C405.17,328.78 405.19,329.00 405.18,329.24 C405.17,329.48 405.15,329.72 405.06,329.96 C404.97,330.20 404.83,330.47 404.65,330.68 C404.46,330.89 404.11,331.05 403.95,331.21 C403.78,331.37 403.64,331.47 403.68,331.65 C403.72,331.83 403.83,332.07 404.18,332.30 C404.53,332.53 404.99,332.79 405.78,333.00 C406.57,333.21 407.88,333.38 408.93,333.55 C409.98,333.72 411.56,333.93 412.08,334.00 L394.08,334.00 C394.60,333.93 396.18,333.72 397.23,333.55 C398.28,333.38 399.59,333.21 400.38,333.00 C401.17,332.79 401.63,332.53 401.98,332.30 C402.33,332.07 402.44,331.83 402.48,331.65 C402.52,331.47 402.38,331.37 402.21,331.21 C402.05,331.05 401.70,330.89 401.51,330.68 C401.33,330.47 401.19,330.20 401.10,329.96 C401.01,329.72 400.99,329.48 400.98,329.24 C400.97,329.00 400.99,328.78 401.06,328.52 C401.13,328.26 401.25,327.91 401.40,327.66 C401.55,327.40 401.78,327.23 401.99,326.98 C402.20,326.74 402.55,326.56 402.68,326.20 C402.81,325.84 402.71,325.13 402.78,324.80 C402.85,324.47 403.03,324.30 403.08,324.20 Z" fill="#12929A" stroke="#111" stroke-width="0.85" stroke-linejoin="round"/>
<path d="M425.50,334.0 V327.0" stroke="#111" stroke-width="1.0" fill="none"/>
<path d="M444.79,324.20 C444.96,324.42 445.42,325.07 445.79,325.50 C446.16,325.93 446.72,326.42 446.99,326.80 C447.26,327.18 447.06,327.47 447.39,327.80 C447.72,328.13 448.51,328.43 448.99,328.80 C449.47,329.17 450.19,329.58 450.29,330.00 C450.39,330.42 449.92,330.88 449.59,331.30 C449.26,331.72 448.26,332.13 448.29,332.50 C448.32,332.87 449.04,333.25 449.79,333.50 C450.54,333.75 452.29,333.92 452.79,334.00 L436.79,334.00 C437.29,333.92 439.04,333.75 439.79,333.50 C440.54,333.25 441.26,332.87 441.29,332.50 C441.32,332.13 440.32,331.72 439.99,331.30 C439.66,330.88 439.19,330.42 439.29,330.00 C439.39,329.58 440.11,329.17 440.59,328.80 C441.07,328.43 441.86,328.13 442.19,327.80 C442.52,327.47 442.32,327.18 442.59,326.80 C442.86,326.42 443.42,325.93 443.79,325.50 C444.16,325.07 444.62,324.42 444.79,324.20 Z" fill="#12929A" stroke="#111" stroke-width="0.85" stroke-linejoin="round"/>
<path d="M467.50,334.0 V324.2" stroke="#111" stroke-width="1.0" fill="none"/>
<path d="M486.50,321.50 C486.55,321.60 486.73,321.53 486.80,322.10 C486.87,322.67 486.79,324.29 486.90,324.90 C487.01,325.51 487.30,325.49 487.49,325.77 C487.67,326.06 487.88,326.28 488.02,326.60 C488.16,326.91 488.26,327.34 488.33,327.66 C488.39,327.98 488.41,328.25 488.40,328.55 C488.39,328.84 488.37,329.13 488.29,329.43 C488.21,329.73 488.08,330.06 487.92,330.31 C487.75,330.57 487.42,330.77 487.28,330.96 C487.15,331.15 487.05,331.23 487.10,331.45 C487.15,331.67 487.28,332.04 487.60,332.30 C487.93,332.56 488.31,332.79 489.05,333.00 C489.79,333.21 491.03,333.38 492.02,333.55 C493.02,333.72 494.50,333.93 495.00,334.00 L478.00,334.00 C478.50,333.93 479.98,333.72 480.98,333.55 C481.97,333.38 483.21,333.21 483.95,333.00 C484.69,332.79 485.07,332.56 485.40,332.30 C485.72,332.04 485.85,331.67 485.90,331.45 C485.95,331.23 485.85,331.15 485.72,330.96 C485.58,330.77 485.25,330.57 485.08,330.31 C484.92,330.06 484.79,329.73 484.71,329.43 C484.63,329.13 484.61,328.84 484.60,328.55 C484.59,328.25 484.61,327.98 484.67,327.66 C484.74,327.34 484.84,326.91 484.98,326.60 C485.12,326.28 485.33,326.06 485.51,325.77 C485.70,325.49 485.99,325.51 486.10,324.90 C486.21,324.29 486.13,322.67 486.20,322.10 C486.27,321.53 486.45,321.60 486.50,321.50 Z" fill="#12929A" stroke="#111" stroke-width="0.85" stroke-linejoin="round"/>
<path d="M34.2,334.0 H503" stroke="#000" stroke-width="1.7" fill="none"/>
<path d="M34.9,336.9 V354.2" stroke="#000" stroke-width="1.5" fill="none"/>
<path d="M32.9,337.4 H34.5" stroke="#000" stroke-width="0.6" fill="none"/>
<text x="31.40" y="338.50" font-size="2.6" text-anchor="end" fill="#231F20">4</text>
<text x="6.8" y="346.80" font-size="5.5" fill="#231F20"><tspan font-weight="bold">(R) </tspan><tspan font-style="italic" fill="#3A3A3C">Itgb3</tspan></text>
<path d="M50.50,353.5 V342.4" stroke="#111" stroke-width="1.0" fill="none"/>
<path d="M69.50,353.5 V341.5" stroke="#111" stroke-width="1.0" fill="none"/>
<path d="M111.50,353.5 V345.0" stroke="#111" stroke-width="1.0" fill="none"/>
<path d="M133.50,353.5 V347.8" stroke="#111" stroke-width="1.0" fill="none"/>
<path d="M152.50,353.5 V347.8" stroke="#111" stroke-width="1.0" fill="none"/>
<path d="M175.50,353.5 V346.0" stroke="#111" stroke-width="1.0" fill="none"/>
<path d="M194.50,353.5 V343.6" stroke="#111" stroke-width="1.0" fill="none"/>
<path d="M217.24,339.30 C217.29,339.40 217.47,339.52 217.54,339.90 C217.61,340.28 217.46,341.16 217.64,341.60 C217.82,342.04 218.31,342.23 218.59,342.54 C218.87,342.86 219.13,343.13 219.32,343.50 C219.51,343.86 219.65,344.35 219.74,344.72 C219.83,345.09 219.85,345.40 219.84,345.74 C219.83,346.08 219.80,346.42 219.69,346.76 C219.58,347.10 219.41,347.49 219.18,347.78 C218.95,348.07 218.53,348.32 218.31,348.53 C218.09,348.74 217.84,348.50 217.84,349.05 C217.84,349.60 217.94,351.23 218.34,351.80 C218.74,352.38 219.34,352.29 220.24,352.50 C221.14,352.71 222.57,352.88 223.74,353.05 C224.91,353.22 226.66,353.43 227.24,353.50 L207.24,353.50 C207.82,353.43 209.57,353.22 210.74,353.05 C211.91,352.88 213.34,352.71 214.24,352.50 C215.14,352.29 215.74,352.38 216.14,351.80 C216.54,351.23 216.64,349.60 216.64,349.05 C216.64,348.50 216.39,348.74 216.17,348.53 C215.95,348.32 215.53,348.07 215.30,347.78 C215.07,347.49 214.90,347.10 214.79,346.76 C214.68,346.42 214.65,346.08 214.64,345.74 C214.63,345.40 214.65,345.09 214.74,344.72 C214.83,344.35 214.97,343.86 215.16,343.50 C215.35,343.13 215.61,342.86 215.89,342.54 C216.17,342.23 216.66,342.04 216.84,341.60 C217.02,341.16 216.87,340.28 216.94,339.90 C217.01,339.52 217.19,339.40 217.24,339.30 Z" fill="#F8766D" stroke="#111" stroke-width="0.85" stroke-linejoin="round"/>
<path d="M236.24,341.10 C236.39,341.47 236.84,342.57 237.14,343.30 C237.44,344.03 237.72,344.80 238.04,345.50 C238.36,346.20 238.82,346.92 239.04,347.50 C239.26,348.08 239.41,348.50 239.34,349.00 C239.27,349.50 238.89,350.08 238.64,350.50 C238.39,350.92 237.66,351.15 237.84,351.50 C238.02,351.85 238.67,352.27 239.74,352.60 C240.81,352.93 243.49,353.35 244.24,353.50 L228.24,353.50 C228.99,353.35 231.67,352.93 232.74,352.60 C233.81,352.27 234.46,351.85 234.64,351.50 C234.82,351.15 234.09,350.92 233.84,350.50 C233.59,350.08 233.21,349.50 233.14,349.00 C233.07,348.50 233.22,348.08 233.44,347.50 C233.66,346.92 234.12,346.20 234.44,345.50 C234.76,344.80 235.04,344.03 235.34,343.30 C235.64,342.57 236.09,341.47 236.24,341.10 Z" fill="#12929A" stroke="#111" stroke-width="0.85" stroke-linejoin="round"/>
<path d="M258.50,353.5 V341.8" stroke="#111" stroke-width="1.0" fill="none"/>
<path d="M277.50,353.5 V339.3" stroke="#111" stroke-width="1.0" fill="none"/>
<path d="M300.50,353.5 V343.6" stroke="#111" stroke-width="1.0" fill="none"/>
<path d="M319.50,353.5 V341.1" stroke="#111" stroke-width="1.0" fill="none"/>
<path d="M361.50,353.5 V341.1" stroke="#111" stroke-width="1.0" fill="none"/>
<path d="M403.50,353.5 V346.2" stroke="#111" stroke-width="1.0" fill="none"/>
<path d="M425.50,353.5 V344.5" stroke="#111" stroke-width="1.0" fill="none"/>
<path d="M444.50,353.5 V343.1" stroke="#111" stroke-width="1.0" fill="none"/>
<path d="M467.50,353.5 V341.6" stroke="#111" stroke-width="1.0" fill="none"/>
<path d="M486.50,353.5 V338.9" stroke="#111" stroke-width="1.0" fill="none"/>
<path d="M34.2,353.5 H503" stroke="#000" stroke-width="1.7" fill="none"/>
<path d="M59.90,353.5 V356.3" stroke="#000" stroke-width="0.8" fill="none"/>
<text x="61.90" y="358.3" font-size="5.95" text-anchor="end" fill="#231F20" transform="rotate(-90 61.90 358.3)">B Cells</text>
<path d="M101.61,353.5 V356.3" stroke="#000" stroke-width="0.8" fill="none"/>
<text x="103.61" y="358.3" font-size="5.95" text-anchor="end" fill="#231F20" transform="rotate(-90 103.61 358.3)">Cholangiocytes</text>
<path d="M143.32,353.5 V356.3" stroke="#000" stroke-width="0.8" fill="none"/>
<text x="145.32" y="358.3" font-size="5.95" text-anchor="end" fill="#231F20" transform="rotate(-90 145.32 358.3)">Hepatocytes (central)</text>
<path d="M185.03,353.5 V356.3" stroke="#000" stroke-width="0.8" fill="none"/>
<text x="187.03" y="358.3" font-size="5.95" text-anchor="end" fill="#231F20" transform="rotate(-90 187.03 358.3)">Hepatocytes (portal)</text>
<path d="M226.74,353.5 V356.3" stroke="#000" stroke-width="0.8" fill="none"/>
<text x="228.74" y="358.3" font-size="5.95" text-anchor="end" fill="#231F20" transform="rotate(-90 228.74 358.3)">HSCs</text>
<path d="M268.45,353.5 V356.3" stroke="#000" stroke-width="0.8" fill="none"/>
<text x="270.45" y="358.3" font-size="5.95" text-anchor="end" fill="#231F20" transform="rotate(-90 270.45 358.3)">LSECs</text>
<path d="M310.16,353.5 V356.3" stroke="#000" stroke-width="0.8" fill="none"/>
<text x="312.16" y="358.3" font-size="5.95" text-anchor="end" fill="#231F20" transform="rotate(-90 312.16 358.3)">Macrophages</text>
<path d="M351.87,353.5 V356.3" stroke="#000" stroke-width="0.8" fill="none"/>
<text x="353.87" y="358.3" font-size="5.95" text-anchor="end" fill="#231F20" transform="rotate(-90 353.87 358.3)">Neutrophils</text>
<path d="M393.58,353.5 V356.3" stroke="#000" stroke-width="0.8" fill="none"/>
<text x="395.58" y="358.3" font-size="5.95" text-anchor="end" fill="#231F20" transform="rotate(-90 395.58 358.3)">pDCs</text>
<path d="M435.29,353.5 V356.3" stroke="#000" stroke-width="0.8" fill="none"/>
<text x="437.29" y="358.3" font-size="5.95" text-anchor="end" fill="#231F20" transform="rotate(-90 437.29 358.3)">PFs</text>
<path d="M477.00,353.5 V356.3" stroke="#000" stroke-width="0.8" fill="none"/>
<text x="479.00" y="358.3" font-size="5.95" text-anchor="end" fill="#231F20" transform="rotate(-90 479.00 358.3)">T Cells</text>
<rect x="506.6" y="223.2" width="10.8" height="11.4" fill="#F8766D" stroke="#231F20" stroke-width="1.1"/>
<rect x="506.6" y="234.6" width="10.8" height="11.6" fill="#12929A" stroke="#231F20" stroke-width="1.1"/>
<text x="522.30" y="230.90" font-size="6.5" text-anchor="start" fill="#231F20">Vehicle</text>
<text x="522.30" y="243.20" font-size="6.5" text-anchor="start" fill="#231F20">30 ug/kg</text>
</svg>
</body></html>
